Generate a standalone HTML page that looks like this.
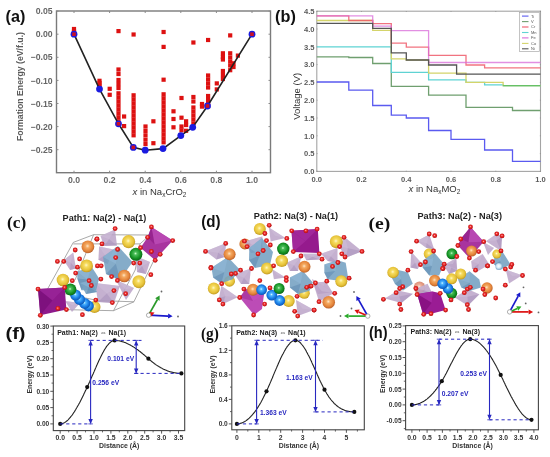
<!DOCTYPE html>
<html><head><meta charset="utf-8"><style>
html,body{margin:0;padding:0;background:#fff;width:550px;height:457px;overflow:hidden}
svg{display:block;filter:blur(0.4px)}
</style></head><body>
<svg width="550" height="457" viewBox="0 0 550 457">
<defs>
<radialGradient id="gy" cx="0.47" cy="0.44" r="0.56"><stop offset="0" stop-color="#fff8c8"/><stop offset="0.28" stop-color="#f6dc60"/><stop offset="0.72" stop-color="#e6c238"/><stop offset="1" stop-color="#c09a24"/></radialGradient>
<radialGradient id="go" cx="0.47" cy="0.44" r="0.56"><stop offset="0" stop-color="#ffe6c8"/><stop offset="0.28" stop-color="#f4aa62"/><stop offset="0.72" stop-color="#e4843a"/><stop offset="1" stop-color="#b8602a"/></radialGradient>
<radialGradient id="gp" cx="0.47" cy="0.44" r="0.56"><stop offset="0" stop-color="#ffe4d8"/><stop offset="0.3" stop-color="#f0b09a"/><stop offset="0.75" stop-color="#dc9078"/><stop offset="1" stop-color="#b87060"/></radialGradient>
<radialGradient id="gg" cx="0.47" cy="0.44" r="0.56"><stop offset="0" stop-color="#c8ffc8"/><stop offset="0.22" stop-color="#4cbc5a"/><stop offset="0.65" stop-color="#179626"/><stop offset="1" stop-color="#0a6616"/></radialGradient>
<radialGradient id="gb" cx="0.47" cy="0.44" r="0.56"><stop offset="0" stop-color="#d8faff"/><stop offset="0.22" stop-color="#50b6ff"/><stop offset="0.65" stop-color="#1a7ee6"/><stop offset="1" stop-color="#0c56b4"/></radialGradient>
<radialGradient id="gr" cx="0.47" cy="0.44" r="0.56"><stop offset="0" stop-color="#ffb0b0"/><stop offset="0.35" stop-color="#f03030"/><stop offset="1" stop-color="#b00a0a"/></radialGradient>
<radialGradient id="gw" cx="0.47" cy="0.44" r="0.56"><stop offset="0" stop-color="#ffffff"/><stop offset="0.5" stop-color="#d6ecf8"/><stop offset="1" stop-color="#7aa6c8"/></radialGradient>
</defs>
<rect width="550" height="457" fill="#fff"/>
<line x1="47.0" y1="290.0" x2="73.3" y2="242.4" stroke="#8c8c8c" stroke-width="0.75"/>
<line x1="73.3" y1="242.4" x2="93.6" y2="234.7" stroke="#8c8c8c" stroke-width="0.75"/>
<line x1="93.6" y1="234.7" x2="150.0" y2="235.0" stroke="#8c8c8c" stroke-width="0.75"/>
<line x1="73.3" y1="243.9" x2="140.0" y2="243.9" stroke="#8c8c8c" stroke-width="0.75"/>
<line x1="140.0" y1="243.9" x2="150.0" y2="235.0" stroke="#8c8c8c" stroke-width="0.75"/>
<line x1="150.0" y1="235.0" x2="155.0" y2="258.0" stroke="#8c8c8c" stroke-width="0.75"/>
<line x1="155.0" y1="258.0" x2="133.9" y2="301.8" stroke="#8c8c8c" stroke-width="0.75"/>
<line x1="135.2" y1="270.0" x2="113.5" y2="310.7" stroke="#8c8c8c" stroke-width="0.75"/>
<line x1="97.6" y1="300.5" x2="133.9" y2="301.8" stroke="#8c8c8c" stroke-width="0.75"/>
<line x1="60.0" y1="309.5" x2="113.5" y2="310.7" stroke="#8c8c8c" stroke-width="0.75"/>
<line x1="113.5" y1="310.7" x2="133.9" y2="301.8" stroke="#8c8c8c" stroke-width="0.75"/>
<line x1="47.0" y1="290.0" x2="60.0" y2="309.5" stroke="#8c8c8c" stroke-width="0.75"/>
<line x1="47.0" y1="290.0" x2="97.6" y2="300.5" stroke="#8c8c8c" stroke-width="0.75"/>
<line x1="93.6" y1="234.7" x2="75.0" y2="280.0" stroke="#8c8c8c" stroke-width="0.75"/>
<line x1="140.0" y1="243.9" x2="135.2" y2="270.0" stroke="#8c8c8c" stroke-width="0.75"/>
<polygon points="100.5,236.0 115.0,229.5 117.0,245.5 104.0,246.0" fill="#bba3c8" fill-opacity="0.85"/>
<polygon points="100.5,236.0 115.0,229.5 109.1,239.2" fill="#d0c0da" fill-opacity="0.5"/>
<polygon points="117.0,245.5 104.0,246.0 109.1,239.2" fill="#a68fba" fill-opacity="0.5"/>
<polygon points="99.1,246.6 113.6,249.5 107.8,264.1 98.4,259.7" fill="#bba3c8" fill-opacity="0.85"/>
<polygon points="99.1,246.6 113.6,249.5 104.7,255.0" fill="#d0c0da" fill-opacity="0.5"/>
<polygon points="107.8,264.1 98.4,259.7 104.7,255.0" fill="#a68fba" fill-opacity="0.5"/>
<polygon points="63.7,260.2 73.3,252.5 76.0,268.4 70.0,270.0" fill="#bba3c8" fill-opacity="0.85"/>
<polygon points="63.7,260.2 73.3,252.5 70.8,262.8" fill="#d0c0da" fill-opacity="0.5"/>
<polygon points="76.0,268.4 70.0,270.0 70.8,262.8" fill="#a68fba" fill-opacity="0.5"/>
<polygon points="95.0,283.0 120.0,286.0 114.0,303.0 98.0,302.0" fill="#bba3c8" fill-opacity="0.85"/>
<polygon points="95.0,283.0 120.0,286.0 106.8,293.5" fill="#d0c0da" fill-opacity="0.5"/>
<polygon points="114.0,303.0 98.0,302.0 106.8,293.5" fill="#a68fba" fill-opacity="0.5"/>
<polygon points="116.0,280.0 134.0,288.0 126.0,300.0" fill="#bba3c8" fill-opacity="0.85"/>
<polygon points="116.0,280.0 134.0,288.0 125.3,289.3" fill="#d0c0da" fill-opacity="0.5"/>
<polygon points="135.5,256.0 150.0,262.0 146.0,274.0 137.0,272.0" fill="#bba3c8" fill-opacity="0.85"/>
<polygon points="135.5,256.0 150.0,262.0 142.1,266.0" fill="#d0c0da" fill-opacity="0.5"/>
<polygon points="146.0,274.0 137.0,272.0 142.1,266.0" fill="#a68fba" fill-opacity="0.5"/>
<polygon points="65.0,301.0 80.0,303.0 72.0,312.0" fill="#bba3c8" fill-opacity="0.85"/>
<polygon points="65.0,301.0 80.0,303.0 72.3,305.3" fill="#d0c0da" fill-opacity="0.5"/>
<polygon points="103.0,257.0 118.0,246.0 132.5,262.0 120.0,280.0 106.0,274.0" fill="#74a0c2" fill-opacity="0.88"/>
<polygon points="103.0,257.0 118.0,246.0 115.9,263.8" fill="#92bad8" fill-opacity="0.55"/>
<polygon points="120.0,280.0 106.0,274.0 115.9,263.8" fill="#5e8ab0" fill-opacity="0.55"/>
<polygon points="77.3,271.4 91.8,267.0 99.1,278.6 96.2,290.3 81.6,290.3 77.3,278.6" fill="#74a0c2" fill-opacity="0.88"/>
<polygon points="77.3,271.4 91.8,267.0 87.2,279.4" fill="#92bad8" fill-opacity="0.55"/>
<polygon points="81.6,290.3 77.3,278.6 87.2,279.4" fill="#5e8ab0" fill-opacity="0.55"/>
<polygon points="80.0,283.0 92.0,280.0 97.0,292.0 86.0,294.0" fill="#74a0c2" fill-opacity="0.88"/>
<polygon points="80.0,283.0 92.0,280.0 88.8,287.2" fill="#92bad8" fill-opacity="0.55"/>
<polygon points="97.0,292.0 86.0,294.0 88.8,287.2" fill="#5e8ab0" fill-opacity="0.55"/>
<circle cx="87.9" cy="246.8" r="6.4" fill="url(#go)"/>
<circle cx="86.6" cy="265.9" r="6.4" fill="url(#gy)"/>
<circle cx="128.6" cy="241.7" r="6.6" fill="url(#gy)"/>
<circle cx="124.3" cy="276.0" r="6.3" fill="url(#go)"/>
<circle cx="138.9" cy="281.7" r="6.5" fill="url(#gy)"/>
<circle cx="63.0" cy="280.0" r="6.3" fill="url(#gy)"/>
<circle cx="135.9" cy="254.3" r="6.5" fill="url(#gg)"/>
<circle cx="94.5" cy="307.0" r="6.0" fill="url(#gy)"/>
<circle cx="88.5" cy="306.0" r="5.4" fill="url(#gb)"/>
<circle cx="84.7" cy="303.4" r="5.5" fill="url(#gb)"/>
<circle cx="79.5" cy="299.4" r="5.5" fill="url(#gb)"/>
<circle cx="75.6" cy="295.0" r="5.5" fill="url(#gb)"/>
<circle cx="70.4" cy="289.6" r="6.0" fill="url(#gg)"/>
<polygon points="151.4,226.9 172.7,240.6 160.2,254.3 155.2,260.3 140.5,247.7 147.6,237.3" fill="#a8349f" fill-opacity="1"/>
<polygon points="151.4,226.9 172.7,240.6 154.6,244.5" fill="#bc4cb6" fill-opacity="0.8"/>
<polygon points="147.6,237.3 151.4,226.9 154.6,244.5" fill="#92208c" fill-opacity="0.8"/>
<polygon points="38.0,289.1 64.7,287.4 66.4,309.6 40.3,315.3" fill="#8e1a8c" fill-opacity="1"/>
<polygon points="38.0,289.1 64.7,287.4 52.4,300.4" fill="#9a2498" fill-opacity="0.8"/>
<polygon points="40.3,315.3 38.0,289.1 52.4,300.4" fill="#7a0f7a" fill-opacity="0.8"/>
<circle cx="75.2" cy="250.0" r="2.4" fill="url(#gr)"/>
<circle cx="57.4" cy="261.4" r="2.4" fill="url(#gr)"/>
<circle cx="63.7" cy="261.4" r="2.4" fill="url(#gr)"/>
<circle cx="79.6" cy="258.9" r="2.4" fill="url(#gr)"/>
<circle cx="96.8" cy="239.2" r="2.4" fill="url(#gr)"/>
<circle cx="97.4" cy="265.9" r="2.4" fill="url(#gr)"/>
<circle cx="115.1" cy="228.6" r="2.4" fill="url(#gr)"/>
<circle cx="97.0" cy="239.0" r="2.4" fill="url(#gr)"/>
<circle cx="102.0" cy="243.9" r="2.4" fill="url(#gr)"/>
<circle cx="117.6" cy="249.4" r="2.4" fill="url(#gr)"/>
<circle cx="115.7" cy="257.6" r="2.4" fill="url(#gr)"/>
<circle cx="101.2" cy="265.8" r="2.4" fill="url(#gr)"/>
<circle cx="133.7" cy="263.1" r="2.4" fill="url(#gr)"/>
<circle cx="139.8" cy="263.1" r="2.4" fill="url(#gr)"/>
<circle cx="151.4" cy="226.9" r="2.4" fill="url(#gr)"/>
<circle cx="172.7" cy="240.6" r="2.4" fill="url(#gr)"/>
<circle cx="155.2" cy="260.3" r="2.4" fill="url(#gr)"/>
<circle cx="147.6" cy="237.3" r="2.4" fill="url(#gr)"/>
<circle cx="151.4" cy="251.5" r="2.4" fill="url(#gr)"/>
<circle cx="160.2" cy="254.3" r="2.4" fill="url(#gr)"/>
<circle cx="140.5" cy="247.7" r="2.4" fill="url(#gr)"/>
<circle cx="38.0" cy="289.1" r="2.4" fill="url(#gr)"/>
<circle cx="64.7" cy="287.4" r="2.4" fill="url(#gr)"/>
<circle cx="66.4" cy="309.6" r="2.4" fill="url(#gr)"/>
<circle cx="40.3" cy="315.3" r="2.4" fill="url(#gr)"/>
<circle cx="57.9" cy="308.4" r="2.4" fill="url(#gr)"/>
<circle cx="75.6" cy="273.1" r="2.4" fill="url(#gr)"/>
<circle cx="82.4" cy="314.7" r="2.4" fill="url(#gr)"/>
<circle cx="100.9" cy="279.1" r="2.4" fill="url(#gr)"/>
<circle cx="91.3" cy="285.5" r="2.4" fill="url(#gr)"/>
<circle cx="111.6" cy="276.6" r="2.4" fill="url(#gr)"/>
<circle cx="117.4" cy="280.4" r="2.4" fill="url(#gr)"/>
<circle cx="113.9" cy="290.6" r="2.4" fill="url(#gr)"/>
<circle cx="125.6" cy="293.7" r="2.4" fill="url(#gr)"/>
<circle cx="95.8" cy="300.1" r="2.4" fill="url(#gr)"/>
<circle cx="112.3" cy="302.6" r="2.4" fill="url(#gr)"/>
<circle cx="150.8" cy="274.7" r="2.4" fill="url(#gr)"/>
<circle cx="77.4" cy="267.2" r="2.4" fill="url(#gr)"/>
<circle cx="72.3" cy="280.7" r="2.4" fill="url(#gr)"/>
<circle cx="89.1" cy="280.7" r="2.4" fill="url(#gr)"/>
<line x1="148.6" y1="315.2" x2="157.4" y2="299.5" stroke="#2a9a2a" stroke-width="1.7"/>
<polygon points="159.6,295.6 159.6,300.7 155.2,298.3" fill="#2a9a2a"/>
<line x1="148.6" y1="315.2" x2="168.1" y2="316.1" stroke="#1a1acc" stroke-width="1.7"/>
<polygon points="172.6,316.3 168.0,318.6 168.2,313.6" fill="#1a1acc"/>
<line x1="148.6" y1="315.2" x2="150.4" y2="314.4" stroke="#dd1111" stroke-width="1.7"/>
<polygon points="154.5,312.5 151.4,316.6 149.4,312.1" fill="#dd1111"/>
<circle cx="148.6" cy="315.2" r="2.2" fill="#fff" stroke="#999" stroke-width="0.8"/>
<circle cx="161.5" cy="291.5" r="0.9" fill="#666"/>
<circle cx="178.0" cy="316.5" r="0.9" fill="#666"/>
<circle cx="244.9" cy="243.9" r="5.5" fill="url(#go)"/>
<circle cx="229.5" cy="281.2" r="5.5" fill="url(#gy)"/>
<circle cx="304.3" cy="293.3" r="5.5" fill="url(#gy)"/>
<polygon points="205.7,251.3 226.3,243.1 224.6,257.0 216.4,259.5" fill="#bba3c8" fill-opacity="0.85"/>
<polygon points="205.7,251.3 226.3,243.1 218.2,252.7" fill="#d0c0da" fill-opacity="0.5"/>
<polygon points="224.6,257.0 216.4,259.5 218.2,252.7" fill="#a68fba" fill-opacity="0.5"/>
<polygon points="234.5,274.3 250.9,268.5 249.3,284.1 241.0,284.1" fill="#bba3c8" fill-opacity="0.85"/>
<polygon points="234.5,274.3 250.9,268.5 243.9,277.8" fill="#d0c0da" fill-opacity="0.5"/>
<polygon points="249.3,284.1 241.0,284.1 243.9,277.8" fill="#a68fba" fill-opacity="0.5"/>
<polygon points="244.3,241.4 262.4,236.5 262.4,251.3 250.9,252.9" fill="#bba3c8" fill-opacity="0.85"/>
<polygon points="244.3,241.4 262.4,236.5 255.0,245.5" fill="#d0c0da" fill-opacity="0.5"/>
<polygon points="262.4,251.3 250.9,252.9 255.0,245.5" fill="#a68fba" fill-opacity="0.5"/>
<polygon points="269.0,227.5 285.4,238.1 270.6,241.4" fill="#bba3c8" fill-opacity="0.85"/>
<polygon points="269.0,227.5 285.4,238.1 275.0,235.7" fill="#d0c0da" fill-opacity="0.5"/>
<polygon points="272.2,269.3 285.4,277.5 273.9,279.2" fill="#bba3c8" fill-opacity="0.85"/>
<polygon points="272.2,269.3 285.4,277.5 277.2,275.3" fill="#d0c0da" fill-opacity="0.5"/>
<polygon points="221.3,285.8 237.8,297.2 223.0,304.1 219.0,298.0" fill="#bba3c8" fill-opacity="0.85"/>
<polygon points="221.3,285.8 237.8,297.2 225.3,296.3" fill="#d0c0da" fill-opacity="0.5"/>
<polygon points="223.0,304.1 219.0,298.0 225.3,296.3" fill="#a68fba" fill-opacity="0.5"/>
<polygon points="339.1,246.3 344.9,237.3 362.1,251.3 345.7,257.8" fill="#bba3c8" fill-opacity="0.85"/>
<polygon points="339.1,246.3 344.9,237.3 347.9,248.2" fill="#d0c0da" fill-opacity="0.5"/>
<polygon points="362.1,251.3 345.7,257.8 347.9,248.2" fill="#a68fba" fill-opacity="0.5"/>
<polygon points="321.0,253.7 337.5,248.0 337.5,262.8 327.6,261.1" fill="#bba3c8" fill-opacity="0.85"/>
<polygon points="321.0,253.7 337.5,248.0 330.9,256.4" fill="#d0c0da" fill-opacity="0.5"/>
<polygon points="337.5,262.8 327.6,261.1 330.9,256.4" fill="#a68fba" fill-opacity="0.5"/>
<polygon points="303.0,253.7 321.0,253.7 319.4,259.5 306.3,260.3" fill="#bba3c8" fill-opacity="0.85"/>
<polygon points="303.0,253.7 321.0,253.7 312.4,256.8" fill="#d0c0da" fill-opacity="0.5"/>
<polygon points="319.4,259.5 306.3,260.3 312.4,256.8" fill="#a68fba" fill-opacity="0.5"/>
<polygon points="286.6,262.8 301.3,256.2 298.1,271.0 289.9,271.0" fill="#bba3c8" fill-opacity="0.85"/>
<polygon points="286.6,262.8 301.3,256.2 294.0,265.2" fill="#d0c0da" fill-opacity="0.5"/>
<polygon points="298.1,271.0 289.9,271.0 294.0,265.2" fill="#a68fba" fill-opacity="0.5"/>
<polygon points="312.8,282.5 326.0,281.7 332.5,292.3 317.8,294.0" fill="#bba3c8" fill-opacity="0.85"/>
<polygon points="312.8,282.5 326.0,281.7 322.3,287.6" fill="#d0c0da" fill-opacity="0.5"/>
<polygon points="332.5,292.3 317.8,294.0 322.3,287.6" fill="#a68fba" fill-opacity="0.5"/>
<polygon points="296.0,300.0 314.0,310.0 297.7,316.1" fill="#bba3c8" fill-opacity="0.85"/>
<polygon points="296.0,300.0 314.0,310.0 302.6,308.7" fill="#d0c0da" fill-opacity="0.5"/>
<polygon points="312.0,279.0 334.0,293.0 319.0,301.7" fill="#bba3c8" fill-opacity="0.85"/>
<polygon points="312.0,279.0 334.0,293.0 321.7,291.2" fill="#d0c0da" fill-opacity="0.5"/>
<polygon points="211.5,267.7 227.9,257.0 239.4,269.3 232.8,279.2 221.3,283.3 213.1,277.5" fill="#74a0c2" fill-opacity="0.88"/>
<polygon points="211.5,267.7 227.9,257.0 224.3,272.3" fill="#92bad8" fill-opacity="0.55"/>
<polygon points="221.3,283.3 213.1,277.5 224.3,272.3" fill="#5e8ab0" fill-opacity="0.55"/>
<polygon points="249.3,248.0 262.0,238.0 273.0,252.0 270.0,265.0 255.0,268.0 249.0,260.0" fill="#74a0c2" fill-opacity="0.88"/>
<polygon points="249.3,248.0 262.0,238.0 259.7,255.2" fill="#92bad8" fill-opacity="0.55"/>
<polygon points="255.0,268.0 249.0,260.0 259.7,255.2" fill="#5e8ab0" fill-opacity="0.55"/>
<polygon points="324.3,264.4 337.5,260.3 345.7,262.8 348.1,277.5 339.1,280.8 327.6,279.2 324.3,272.6" fill="#74a0c2" fill-opacity="0.88"/>
<polygon points="324.3,264.4 337.5,260.3 335.2,271.1" fill="#92bad8" fill-opacity="0.55"/>
<polygon points="327.6,279.2 324.3,272.6 335.2,271.1" fill="#5e8ab0" fill-opacity="0.55"/>
<polygon points="289.9,277.5 303.0,271.0 312.8,282.5 309.6,290.7 298.1,294.0 289.9,287.4" fill="#74a0c2" fill-opacity="0.88"/>
<polygon points="289.9,277.5 303.0,271.0 300.6,283.8" fill="#92bad8" fill-opacity="0.55"/>
<polygon points="298.1,294.0 289.9,287.4 300.6,283.8" fill="#5e8ab0" fill-opacity="0.55"/>
<polygon points="246.0,289.0 264.0,294.5 262.0,309.0 254.0,315.0 239.7,297.5" fill="#bc4cb6" fill-opacity="1"/>
<polygon points="246.0,289.0 264.0,294.5 253.1,301.0" fill="#c04cbe" fill-opacity="0.8"/>
<polygon points="239.7,297.5 246.0,289.0 253.1,301.0" fill="#a8349f" fill-opacity="0.8"/>
<circle cx="259.8" cy="228.9" r="6.0" fill="url(#gy)"/>
<circle cx="229.6" cy="254.3" r="6.0" fill="url(#go)"/>
<circle cx="213.8" cy="288.5" r="6.0" fill="url(#gy)"/>
<circle cx="283.3" cy="248.8" r="6.2" fill="url(#gg)"/>
<circle cx="281.8" cy="260.9" r="6.2" fill="url(#gy)"/>
<circle cx="267.0" cy="268.4" r="6.0" fill="url(#gy)"/>
<circle cx="304.5" cy="266.8" r="6.0" fill="url(#go)"/>
<circle cx="336.3" cy="241.7" r="6.5" fill="url(#gy)"/>
<circle cx="341.3" cy="281.2" r="6.0" fill="url(#gy)"/>
<circle cx="328.7" cy="302.3" r="6.3" fill="url(#go)"/>
<circle cx="253.0" cy="289.7" r="6.0" fill="url(#go)"/>
<circle cx="288.7" cy="301.1" r="6.0" fill="url(#gy)"/>
<circle cx="279.7" cy="300.5" r="5.4" fill="url(#gb)"/>
<circle cx="271.8" cy="295.1" r="5.4" fill="url(#gb)"/>
<circle cx="279.1" cy="288.5" r="5.5" fill="url(#gg)"/>
<circle cx="261.6" cy="289.7" r="5.4" fill="url(#gb)"/>
<polygon points="291.5,230.7 317.8,229.1 319.4,252.9 293.1,252.1" fill="#951a8d" fill-opacity="1"/>
<polygon points="291.5,230.7 317.8,229.1 305.4,241.2" fill="#a42a9e" fill-opacity="0.8"/>
<polygon points="293.1,252.1 291.5,230.7 305.4,241.2" fill="#a42a9e" fill-opacity="0.8"/>
<circle cx="205.5" cy="251.4" r="2.4" fill="url(#gr)"/>
<circle cx="225.7" cy="243.4" r="2.4" fill="url(#gr)"/>
<circle cx="211.0" cy="267.5" r="2.4" fill="url(#gr)"/>
<circle cx="244.4" cy="241.2" r="2.4" fill="url(#gr)"/>
<circle cx="247.1" cy="246.6" r="2.4" fill="url(#gr)"/>
<circle cx="258.0" cy="253.8" r="2.4" fill="url(#gr)"/>
<circle cx="251.5" cy="268.5" r="2.4" fill="url(#gr)"/>
<circle cx="240.5" cy="270.2" r="2.4" fill="url(#gr)"/>
<circle cx="210.8" cy="268.0" r="2.4" fill="url(#gr)"/>
<circle cx="231.3" cy="274.0" r="2.4" fill="url(#gr)"/>
<circle cx="235.5" cy="273.4" r="2.4" fill="url(#gr)"/>
<circle cx="221.7" cy="283.7" r="2.4" fill="url(#gr)"/>
<circle cx="243.9" cy="289.1" r="2.4" fill="url(#gr)"/>
<circle cx="239.7" cy="297.5" r="2.4" fill="url(#gr)"/>
<circle cx="219.3" cy="299.9" r="2.4" fill="url(#gr)"/>
<circle cx="222.9" cy="304.1" r="2.4" fill="url(#gr)"/>
<circle cx="253.6" cy="315.0" r="2.4" fill="url(#gr)"/>
<circle cx="269.2" cy="225.3" r="2.4" fill="url(#gr)"/>
<circle cx="264.9" cy="233.5" r="2.4" fill="url(#gr)"/>
<circle cx="266.5" cy="240.6" r="2.4" fill="url(#gr)"/>
<circle cx="270.3" cy="245.0" r="2.4" fill="url(#gr)"/>
<circle cx="263.2" cy="250.5" r="2.4" fill="url(#gr)"/>
<circle cx="286.8" cy="238.4" r="2.4" fill="url(#gr)"/>
<circle cx="291.7" cy="230.8" r="2.4" fill="url(#gr)"/>
<circle cx="305.9" cy="230.8" r="2.4" fill="url(#gr)"/>
<circle cx="293.3" cy="251.6" r="2.4" fill="url(#gr)"/>
<circle cx="301.0" cy="256.0" r="2.4" fill="url(#gr)"/>
<circle cx="273.6" cy="265.8" r="2.4" fill="url(#gr)"/>
<circle cx="259.8" cy="280.6" r="2.4" fill="url(#gr)"/>
<circle cx="270.0" cy="287.9" r="2.4" fill="url(#gr)"/>
<circle cx="286.3" cy="277.6" r="2.4" fill="url(#gr)"/>
<circle cx="286.3" cy="280.6" r="2.4" fill="url(#gr)"/>
<circle cx="306.7" cy="287.3" r="2.4" fill="url(#gr)"/>
<circle cx="310.4" cy="286.1" r="2.4" fill="url(#gr)"/>
<circle cx="297.1" cy="296.3" r="2.4" fill="url(#gr)"/>
<circle cx="264.6" cy="304.1" r="2.4" fill="url(#gr)"/>
<circle cx="294.7" cy="311.3" r="2.4" fill="url(#gr)"/>
<circle cx="297.7" cy="316.1" r="2.4" fill="url(#gr)"/>
<circle cx="314.0" cy="310.1" r="2.4" fill="url(#gr)"/>
<circle cx="317.1" cy="229.1" r="2.4" fill="url(#gr)"/>
<circle cx="319.3" cy="253.8" r="2.4" fill="url(#gr)"/>
<circle cx="322.0" cy="259.2" r="2.4" fill="url(#gr)"/>
<circle cx="339.6" cy="246.6" r="2.4" fill="url(#gr)"/>
<circle cx="344.0" cy="237.3" r="2.4" fill="url(#gr)"/>
<circle cx="362.0" cy="251.4" r="2.4" fill="url(#gr)"/>
<circle cx="341.8" cy="253.8" r="2.4" fill="url(#gr)"/>
<circle cx="345.0" cy="257.0" r="2.4" fill="url(#gr)"/>
<circle cx="337.9" cy="262.5" r="2.4" fill="url(#gr)"/>
<circle cx="332.5" cy="266.4" r="2.4" fill="url(#gr)"/>
<circle cx="349.1" cy="278.2" r="2.4" fill="url(#gr)"/>
<circle cx="326.8" cy="281.2" r="2.4" fill="url(#gr)"/>
<circle cx="315.4" cy="283.0" r="2.4" fill="url(#gr)"/>
<circle cx="311.2" cy="286.1" r="2.4" fill="url(#gr)"/>
<circle cx="334.7" cy="293.3" r="2.4" fill="url(#gr)"/>
<circle cx="319.0" cy="301.7" r="2.4" fill="url(#gr)"/>
<circle cx="314.2" cy="310.1" r="2.4" fill="url(#gr)"/>
<line x1="367.8" y1="316.1" x2="358.6" y2="299.9" stroke="#1a1acc" stroke-width="1.7"/>
<polygon points="356.4,296.0 360.8,298.7 356.4,301.1" fill="#1a1acc"/>
<line x1="367.8" y1="316.1" x2="348.5" y2="316.1" stroke="#2aaa2a" stroke-width="1.7"/>
<polygon points="344.0,316.1 348.5,313.6 348.5,318.6" fill="#2aaa2a"/>
<line x1="367.8" y1="316.1" x2="358.6" y2="311.9" stroke="#dd1111" stroke-width="1.7"/>
<polygon points="354.5,310.0 359.6,309.6 357.5,314.1" fill="#dd1111"/>
<circle cx="367.8" cy="316.1" r="2.2" fill="#fff" stroke="#999" stroke-width="0.8"/>
<circle cx="354.0" cy="292.0" r="0.9" fill="#666"/>
<circle cx="351.5" cy="308.5" r="0.9" fill="#666"/>
<circle cx="340.5" cy="316.0" r="0.9" fill="#666"/>
<circle cx="429.2" cy="253.8" r="5.5" fill="url(#gy)"/>
<circle cx="419.5" cy="287.3" r="5.8" fill="url(#gp)"/>
<polygon points="416.9,241.1 429.3,234.6 434.2,249.3 426.0,247.7" fill="#bba3c8" fill-opacity="0.85"/>
<polygon points="416.9,241.1 429.3,234.6 426.6,243.2" fill="#d0c0da" fill-opacity="0.5"/>
<polygon points="434.2,249.3 426.0,247.7 426.6,243.2" fill="#a68fba" fill-opacity="0.5"/>
<polygon points="411.2,251.8 421.0,262.5 417.8,269.0 410.4,267.4" fill="#bba3c8" fill-opacity="0.85"/>
<polygon points="411.2,251.8 421.0,262.5 415.1,262.7" fill="#d0c0da" fill-opacity="0.5"/>
<polygon points="417.8,269.0 410.4,267.4 415.1,262.7" fill="#a68fba" fill-opacity="0.5"/>
<polygon points="444.0,265.8 455.5,259.2 457.2,270.7 449.0,274.0" fill="#bba3c8" fill-opacity="0.85"/>
<polygon points="444.0,265.8 455.5,259.2 451.4,267.4" fill="#d0c0da" fill-opacity="0.5"/>
<polygon points="457.2,270.7 449.0,274.0 451.4,267.4" fill="#a68fba" fill-opacity="0.5"/>
<polygon points="384.9,298.6 398.1,290.4 412.8,293.7 401.3,303.0" fill="#bba3c8" fill-opacity="0.85"/>
<polygon points="384.9,298.6 398.1,290.4 399.3,296.4" fill="#d0c0da" fill-opacity="0.5"/>
<polygon points="412.8,293.7 401.3,303.0 399.3,296.4" fill="#a68fba" fill-opacity="0.5"/>
<polygon points="416.1,288.8 427.6,283.8 432.5,293.7 420.0,295.0" fill="#bba3c8" fill-opacity="0.85"/>
<polygon points="416.1,288.8 427.6,283.8 424.1,290.3" fill="#d0c0da" fill-opacity="0.5"/>
<polygon points="432.5,293.7 420.0,295.0 424.1,290.3" fill="#a68fba" fill-opacity="0.5"/>
<polygon points="471.2,261.3 482.7,254.0 489.3,264.6 477.8,271.2 472.0,268.7" fill="#bba3c8" fill-opacity="0.85"/>
<polygon points="471.2,261.3 482.7,254.0 478.6,264.0" fill="#d0c0da" fill-opacity="0.5"/>
<polygon points="477.8,271.2 472.0,268.7 478.6,264.0" fill="#a68fba" fill-opacity="0.5"/>
<polygon points="444.9,264.6 456.4,258.0 457.2,269.6" fill="#bba3c8" fill-opacity="0.85"/>
<polygon points="444.9,264.6 456.4,258.0 452.8,264.1" fill="#d0c0da" fill-opacity="0.5"/>
<polygon points="454.8,297.5 467.9,289.3 479.4,294.2 467.9,305.7" fill="#bba3c8" fill-opacity="0.85"/>
<polygon points="454.8,297.5 467.9,289.3 467.5,296.7" fill="#d0c0da" fill-opacity="0.5"/>
<polygon points="479.4,294.2 467.9,305.7 467.5,296.7" fill="#a68fba" fill-opacity="0.5"/>
<polygon points="505.7,269.6 522.1,275.3 509.0,283.5" fill="#bba3c8" fill-opacity="0.85"/>
<polygon points="505.7,269.6 522.1,275.3 512.3,276.1" fill="#d0c0da" fill-opacity="0.5"/>
<polygon points="486.0,241.3 496.8,233.8 502.1,235.9 501.0,250.9" fill="#bba3c8" fill-opacity="0.85"/>
<polygon points="486.0,241.3 496.8,233.8 496.5,240.5" fill="#d0c0da" fill-opacity="0.5"/>
<polygon points="502.1,235.9 501.0,250.9 496.5,240.5" fill="#a68fba" fill-opacity="0.5"/>
<polygon points="483.0,242.0 494.0,248.0 488.0,255.0" fill="#bba3c8" fill-opacity="0.85"/>
<polygon points="483.0,242.0 494.0,248.0 488.3,248.3" fill="#d0c0da" fill-opacity="0.5"/>
<polygon points="422.7,260.8 434.2,252.6 444.0,264.1 439.1,275.6 429.3,275.6 422.7,267.4" fill="#74a0c2" fill-opacity="0.88"/>
<polygon points="422.7,260.8 434.2,252.6 432.0,266.0" fill="#92bad8" fill-opacity="0.55"/>
<polygon points="429.3,275.6 422.7,267.4 432.0,266.0" fill="#5e8ab0" fill-opacity="0.55"/>
<polygon points="389.9,274.0 398.1,269.9 407.9,272.3 412.8,283.8 403.0,290.4 394.8,283.8" fill="#74a0c2" fill-opacity="0.88"/>
<polygon points="389.9,274.0 398.1,269.9 401.1,279.0" fill="#92bad8" fill-opacity="0.55"/>
<polygon points="403.0,290.4 394.8,283.8 401.1,279.0" fill="#5e8ab0" fill-opacity="0.55"/>
<polygon points="458.0,279.4 469.6,271.2 479.4,279.4 481.0,287.6 469.6,290.9 461.3,287.6" fill="#74a0c2" fill-opacity="0.88"/>
<polygon points="458.0,279.4 469.6,271.2 469.8,282.7" fill="#92bad8" fill-opacity="0.55"/>
<polygon points="469.6,290.9 461.3,287.6 469.8,282.7" fill="#5e8ab0" fill-opacity="0.55"/>
<polygon points="494.2,254.8 502.4,251.5 510.6,264.6 500.8,269.6 494.2,264.6" fill="#74a0c2" fill-opacity="0.88"/>
<polygon points="494.2,254.8 502.4,251.5 500.4,261.0" fill="#92bad8" fill-opacity="0.55"/>
<polygon points="500.8,269.6 494.2,264.6 500.4,261.0" fill="#5e8ab0" fill-opacity="0.55"/>
<circle cx="393.1" cy="272.5" r="5.8" fill="url(#gy)"/>
<circle cx="460.7" cy="274.0" r="5.5" fill="url(#gy)"/>
<circle cx="451.7" cy="278.8" r="5.5" fill="url(#gy)"/>
<circle cx="434.8" cy="280.6" r="5.8" fill="url(#go)"/>
<circle cx="451.7" cy="293.3" r="5.5" fill="url(#gg)"/>
<circle cx="448.0" cy="288.5" r="5.3" fill="url(#gb)"/>
<circle cx="442.6" cy="283.7" r="5.3" fill="url(#gb)"/>
<circle cx="451.9" cy="253.8" r="5.5" fill="url(#gg)"/>
<circle cx="487.0" cy="288.0" r="5.7" fill="url(#go)"/>
<circle cx="496.8" cy="254.1" r="4.5" fill="url(#gy)"/>
<circle cx="498.9" cy="266.5" r="3.5" fill="url(#gw)"/>
<polygon points="470.5,226.9 483.7,241.7 469.4,258.1 457.9,245.5 460.7,239.0" fill="#a8349f" fill-opacity="1"/>
<polygon points="470.5,226.9 483.7,241.7 468.4,242.2" fill="#bc4cb6" fill-opacity="0.8"/>
<polygon points="460.7,239.0 470.5,226.9 468.4,242.2" fill="#92208c" fill-opacity="0.8"/>
<circle cx="471.6" cy="251.0" r="5.5" fill="url(#go)"/>
<polygon points="417.1,293.9 432.8,291.5 440.2,293.3 445.6,310.1 431.2,313.7 423.1,314.3" fill="#9a1c94" fill-opacity="1"/>
<polygon points="417.1,293.9 432.8,291.5 431.7,302.8" fill="#a82aa4" fill-opacity="0.8"/>
<polygon points="423.1,314.3 417.1,293.9 431.7,302.8" fill="#84107e" fill-opacity="0.8"/>
<circle cx="416.6" cy="241.2" r="2.4" fill="url(#gr)"/>
<circle cx="429.2" cy="234.0" r="2.4" fill="url(#gr)"/>
<circle cx="434.7" cy="235.7" r="2.4" fill="url(#gr)"/>
<circle cx="433.6" cy="251.0" r="2.4" fill="url(#gr)"/>
<circle cx="411.1" cy="251.6" r="2.4" fill="url(#gr)"/>
<circle cx="420.5" cy="264.7" r="2.4" fill="url(#gr)"/>
<circle cx="425.4" cy="262.0" r="2.4" fill="url(#gr)"/>
<circle cx="407.9" cy="270.2" r="2.4" fill="url(#gr)"/>
<circle cx="402.7" cy="286.7" r="2.4" fill="url(#gr)"/>
<circle cx="399.7" cy="288.5" r="2.4" fill="url(#gr)"/>
<circle cx="396.1" cy="292.7" r="2.4" fill="url(#gr)"/>
<circle cx="383.4" cy="299.3" r="2.4" fill="url(#gr)"/>
<circle cx="399.7" cy="304.1" r="2.4" fill="url(#gr)"/>
<circle cx="400.9" cy="309.5" r="2.4" fill="url(#gr)"/>
<circle cx="415.9" cy="288.5" r="2.4" fill="url(#gr)"/>
<circle cx="417.1" cy="294.5" r="2.4" fill="url(#gr)"/>
<circle cx="423.7" cy="314.3" r="2.4" fill="url(#gr)"/>
<circle cx="431.0" cy="313.7" r="2.4" fill="url(#gr)"/>
<circle cx="470.5" cy="226.9" r="2.4" fill="url(#gr)"/>
<circle cx="483.7" cy="241.7" r="2.4" fill="url(#gr)"/>
<circle cx="469.4" cy="258.1" r="2.4" fill="url(#gr)"/>
<circle cx="457.9" cy="245.5" r="2.4" fill="url(#gr)"/>
<circle cx="460.7" cy="239.0" r="2.4" fill="url(#gr)"/>
<circle cx="456.8" cy="256.5" r="2.4" fill="url(#gr)"/>
<circle cx="478.7" cy="251.6" r="2.4" fill="url(#gr)"/>
<circle cx="444.2" cy="264.2" r="2.4" fill="url(#gr)"/>
<circle cx="443.1" cy="268.5" r="2.4" fill="url(#gr)"/>
<circle cx="475.5" cy="270.2" r="2.4" fill="url(#gr)"/>
<circle cx="487.5" cy="265.8" r="2.4" fill="url(#gr)"/>
<circle cx="442.6" cy="268.6" r="2.4" fill="url(#gr)"/>
<circle cx="440.2" cy="293.3" r="2.4" fill="url(#gr)"/>
<circle cx="445.6" cy="310.1" r="2.4" fill="url(#gr)"/>
<circle cx="451.0" cy="299.9" r="2.4" fill="url(#gr)"/>
<circle cx="464.3" cy="292.7" r="2.4" fill="url(#gr)"/>
<circle cx="467.3" cy="289.1" r="2.4" fill="url(#gr)"/>
<circle cx="470.3" cy="287.3" r="2.4" fill="url(#gr)"/>
<circle cx="467.3" cy="304.7" r="2.4" fill="url(#gr)"/>
<circle cx="468.5" cy="309.5" r="2.4" fill="url(#gr)"/>
<circle cx="483.0" cy="289.1" r="2.4" fill="url(#gr)"/>
<circle cx="484.8" cy="294.5" r="2.4" fill="url(#gr)"/>
<circle cx="496.8" cy="233.8" r="2.4" fill="url(#gr)"/>
<circle cx="502.1" cy="235.9" r="2.4" fill="url(#gr)"/>
<circle cx="501.0" cy="250.9" r="2.4" fill="url(#gr)"/>
<circle cx="492.5" cy="261.6" r="2.4" fill="url(#gr)"/>
<circle cx="487.6" cy="265.9" r="2.4" fill="url(#gr)"/>
<circle cx="505.3" cy="269.1" r="2.4" fill="url(#gr)"/>
<circle cx="510.7" cy="267.0" r="2.4" fill="url(#gr)"/>
<circle cx="511.8" cy="264.4" r="2.4" fill="url(#gr)"/>
<circle cx="522.5" cy="275.5" r="2.4" fill="url(#gr)"/>
<circle cx="505.3" cy="285.2" r="2.4" fill="url(#gr)"/>
<circle cx="495.7" cy="298.0" r="2.4" fill="url(#gr)"/>
<line x1="509.6" y1="311.9" x2="518.2" y2="296.2" stroke="#1a1acc" stroke-width="1.7"/>
<polygon points="520.3,292.2 520.3,297.3 516.0,295.0" fill="#1a1acc"/>
<line x1="509.6" y1="311.9" x2="528.6" y2="311.9" stroke="#dd1111" stroke-width="1.7"/>
<polygon points="533.1,311.9 528.6,314.4 528.6,309.4" fill="#dd1111"/>
<line x1="509.6" y1="311.9" x2="517.3" y2="308.4" stroke="#2aaa2a" stroke-width="1.7"/>
<polygon points="521.4,306.6 518.3,310.7 516.3,306.2" fill="#2aaa2a"/>
<circle cx="509.6" cy="311.9" r="2.2" fill="#fff" stroke="#999" stroke-width="0.8"/>
<circle cx="523.5" cy="287.3" r="0.9" fill="#666"/>
<circle cx="525.7" cy="303.4" r="0.9" fill="#666"/>
<circle cx="538.5" cy="312.4" r="0.9" fill="#666"/>
<rect x="56.5" y="11.0" width="214.0" height="161.7" fill="none" stroke="#7a7a7a" stroke-width="1.4"/>
<line x1="56.5" y1="11.1" x2="58.5" y2="11.1" stroke="#8a8a8a" stroke-width="1"/>
<line x1="270.5" y1="11.1" x2="268.5" y2="11.1" stroke="#8a8a8a" stroke-width="1"/>
<text x="52.6" y="14.2" font-family='"Liberation Sans", sans-serif' font-size="8.7" font-weight="bold" fill="#666" text-anchor="end" >0.05</text>
<line x1="56.5" y1="34.2" x2="58.5" y2="34.2" stroke="#8a8a8a" stroke-width="1"/>
<line x1="270.5" y1="34.2" x2="268.5" y2="34.2" stroke="#8a8a8a" stroke-width="1"/>
<text x="52.6" y="37.3" font-family='"Liberation Sans", sans-serif' font-size="8.7" font-weight="bold" fill="#666" text-anchor="end" >0.00</text>
<line x1="56.5" y1="57.3" x2="58.5" y2="57.3" stroke="#8a8a8a" stroke-width="1"/>
<line x1="270.5" y1="57.3" x2="268.5" y2="57.3" stroke="#8a8a8a" stroke-width="1"/>
<text x="52.6" y="60.4" font-family='"Liberation Sans", sans-serif' font-size="8.7" font-weight="bold" fill="#666" text-anchor="end" >−0.05</text>
<line x1="56.5" y1="80.4" x2="58.5" y2="80.4" stroke="#8a8a8a" stroke-width="1"/>
<line x1="270.5" y1="80.4" x2="268.5" y2="80.4" stroke="#8a8a8a" stroke-width="1"/>
<text x="52.6" y="83.5" font-family='"Liberation Sans", sans-serif' font-size="8.7" font-weight="bold" fill="#666" text-anchor="end" >−0.10</text>
<line x1="56.5" y1="103.5" x2="58.5" y2="103.5" stroke="#8a8a8a" stroke-width="1"/>
<line x1="270.5" y1="103.5" x2="268.5" y2="103.5" stroke="#8a8a8a" stroke-width="1"/>
<text x="52.6" y="106.6" font-family='"Liberation Sans", sans-serif' font-size="8.7" font-weight="bold" fill="#666" text-anchor="end" >−0.15</text>
<line x1="56.5" y1="126.6" x2="58.5" y2="126.6" stroke="#8a8a8a" stroke-width="1"/>
<line x1="270.5" y1="126.6" x2="268.5" y2="126.6" stroke="#8a8a8a" stroke-width="1"/>
<text x="52.6" y="129.7" font-family='"Liberation Sans", sans-serif' font-size="8.7" font-weight="bold" fill="#666" text-anchor="end" >−0.20</text>
<line x1="56.5" y1="149.7" x2="58.5" y2="149.7" stroke="#8a8a8a" stroke-width="1"/>
<line x1="270.5" y1="149.7" x2="268.5" y2="149.7" stroke="#8a8a8a" stroke-width="1"/>
<text x="52.6" y="152.8" font-family='"Liberation Sans", sans-serif' font-size="8.7" font-weight="bold" fill="#666" text-anchor="end" >−0.25</text>
<line x1="74.0" y1="172.7" x2="74.0" y2="170.7" stroke="#8a8a8a" stroke-width="1"/>
<line x1="74.0" y1="11.0" x2="74.0" y2="13.0" stroke="#8a8a8a" stroke-width="1"/>
<text x="74.0" y="183.3" font-family='"Liberation Sans", sans-serif' font-size="8.7" font-weight="bold" fill="#666" text-anchor="middle" >0.0</text>
<line x1="109.6" y1="172.7" x2="109.6" y2="170.7" stroke="#8a8a8a" stroke-width="1"/>
<line x1="109.6" y1="11.0" x2="109.6" y2="13.0" stroke="#8a8a8a" stroke-width="1"/>
<text x="109.6" y="183.3" font-family='"Liberation Sans", sans-serif' font-size="8.7" font-weight="bold" fill="#666" text-anchor="middle" >0.2</text>
<line x1="145.2" y1="172.7" x2="145.2" y2="170.7" stroke="#8a8a8a" stroke-width="1"/>
<line x1="145.2" y1="11.0" x2="145.2" y2="13.0" stroke="#8a8a8a" stroke-width="1"/>
<text x="145.2" y="183.3" font-family='"Liberation Sans", sans-serif' font-size="8.7" font-weight="bold" fill="#666" text-anchor="middle" >0.4</text>
<line x1="180.8" y1="172.7" x2="180.8" y2="170.7" stroke="#8a8a8a" stroke-width="1"/>
<line x1="180.8" y1="11.0" x2="180.8" y2="13.0" stroke="#8a8a8a" stroke-width="1"/>
<text x="180.8" y="183.3" font-family='"Liberation Sans", sans-serif' font-size="8.7" font-weight="bold" fill="#666" text-anchor="middle" >0.6</text>
<line x1="216.4" y1="172.7" x2="216.4" y2="170.7" stroke="#8a8a8a" stroke-width="1"/>
<line x1="216.4" y1="11.0" x2="216.4" y2="13.0" stroke="#8a8a8a" stroke-width="1"/>
<text x="216.4" y="183.3" font-family='"Liberation Sans", sans-serif' font-size="8.7" font-weight="bold" fill="#666" text-anchor="middle" >0.8</text>
<line x1="252.0" y1="172.7" x2="252.0" y2="170.7" stroke="#8a8a8a" stroke-width="1"/>
<line x1="252.0" y1="11.0" x2="252.0" y2="13.0" stroke="#8a8a8a" stroke-width="1"/>
<text x="252.0" y="183.3" font-family='"Liberation Sans", sans-serif' font-size="8.7" font-weight="bold" fill="#666" text-anchor="middle" >1.0</text>
<text x="159.5" y="195" font-family='"Liberation Sans", sans-serif' font-size="9.5" fill="#333" text-anchor="middle"><tspan font-style="italic">x</tspan> in Na<tspan font-size="6.5" dy="2">x</tspan><tspan dy="-2">CrO</tspan><tspan font-size="6.5" dy="2">2</tspan></text>
<text x="0" y="0" transform="translate(23.3,86.5) rotate(-90)" font-family='"Liberation Sans", sans-serif' font-size="9" font-weight="bold" fill="#5a5a5a" text-anchor="middle" textLength="109" lengthAdjust="spacingAndGlyphs">Formation Energy (eV/f.u.)</text>
<g fill="#dd1111">
<rect x="71.9" y="26.9" width="4.2" height="4.2"/>
<rect x="71.9" y="29.4" width="4.2" height="4.2"/>
<rect x="71.9" y="32.1" width="4.2" height="4.2"/>
<rect x="97.4" y="78.7" width="4.2" height="4.2"/>
<rect x="97.4" y="80.9" width="4.2" height="4.2"/>
<rect x="97.4" y="83.1" width="4.2" height="4.2"/>
<rect x="97.4" y="85.2" width="4.2" height="4.2"/>
<rect x="107.6" y="86.7" width="4.2" height="4.2"/>
<rect x="107.6" y="92.7" width="4.2" height="4.2"/>
<rect x="116.4" y="29.0" width="4.2" height="4.2"/>
<rect x="116.4" y="67.4" width="4.2" height="4.2"/>
<rect x="116.4" y="71.9" width="4.2" height="4.2"/>
<rect x="116.4" y="77.9" width="4.2" height="4.2"/>
<rect x="116.4" y="81.9" width="4.2" height="4.2"/>
<rect x="116.4" y="85.9" width="4.2" height="4.2"/>
<rect x="116.4" y="91.2" width="4.2" height="4.2"/>
<rect x="116.4" y="95.2" width="4.2" height="4.2"/>
<rect x="116.4" y="99.2" width="4.2" height="4.2"/>
<rect x="116.4" y="103.2" width="4.2" height="4.2"/>
<rect x="116.4" y="107.2" width="4.2" height="4.2"/>
<rect x="116.4" y="111.2" width="4.2" height="4.2"/>
<rect x="116.4" y="115.2" width="4.2" height="4.2"/>
<rect x="116.4" y="119.2" width="4.2" height="4.2"/>
<rect x="122.0" y="114.4" width="4.2" height="4.2"/>
<rect x="122.0" y="124.0" width="4.2" height="4.2"/>
<rect x="131.5" y="32.4" width="4.2" height="4.2"/>
<rect x="131.5" y="93.2" width="4.2" height="4.2"/>
<rect x="131.5" y="97.2" width="4.2" height="4.2"/>
<rect x="131.5" y="101.2" width="4.2" height="4.2"/>
<rect x="131.5" y="105.2" width="4.2" height="4.2"/>
<rect x="131.5" y="109.2" width="4.2" height="4.2"/>
<rect x="131.5" y="113.2" width="4.2" height="4.2"/>
<rect x="131.5" y="117.2" width="4.2" height="4.2"/>
<rect x="131.5" y="121.2" width="4.2" height="4.2"/>
<rect x="131.5" y="125.2" width="4.2" height="4.2"/>
<rect x="131.5" y="129.2" width="4.2" height="4.2"/>
<rect x="131.5" y="133.2" width="4.2" height="4.2"/>
<rect x="131.5" y="145.4" width="4.2" height="4.2"/>
<rect x="143.4" y="124.4" width="4.2" height="4.2"/>
<rect x="143.4" y="128.8" width="4.2" height="4.2"/>
<rect x="143.4" y="133.2" width="4.2" height="4.2"/>
<rect x="143.4" y="137.6" width="4.2" height="4.2"/>
<rect x="143.4" y="142.0" width="4.2" height="4.2"/>
<rect x="151.3" y="119.2" width="4.2" height="4.2"/>
<rect x="151.3" y="141.1" width="4.2" height="4.2"/>
<rect x="161.5" y="29.9" width="4.2" height="4.2"/>
<rect x="161.5" y="44.8" width="4.2" height="4.2"/>
<rect x="161.5" y="77.6" width="4.2" height="4.2"/>
<rect x="161.5" y="92.2" width="4.2" height="4.2"/>
<rect x="161.5" y="96.2" width="4.2" height="4.2"/>
<rect x="161.5" y="100.2" width="4.2" height="4.2"/>
<rect x="161.5" y="104.2" width="4.2" height="4.2"/>
<rect x="161.5" y="108.2" width="4.2" height="4.2"/>
<rect x="161.5" y="112.2" width="4.2" height="4.2"/>
<rect x="161.5" y="116.2" width="4.2" height="4.2"/>
<rect x="161.5" y="120.2" width="4.2" height="4.2"/>
<rect x="161.5" y="124.2" width="4.2" height="4.2"/>
<rect x="161.5" y="128.2" width="4.2" height="4.2"/>
<rect x="161.5" y="132.2" width="4.2" height="4.2"/>
<rect x="161.5" y="136.2" width="4.2" height="4.2"/>
<rect x="161.5" y="140.2" width="4.2" height="4.2"/>
<rect x="171.4" y="109.2" width="4.2" height="4.2"/>
<rect x="171.4" y="116.9" width="4.2" height="4.2"/>
<rect x="171.4" y="125.2" width="4.2" height="4.2"/>
<rect x="179.4" y="95.9" width="4.2" height="4.2"/>
<rect x="179.4" y="115.6" width="4.2" height="4.2"/>
<rect x="179.4" y="124.4" width="4.2" height="4.2"/>
<rect x="179.4" y="128.2" width="4.2" height="4.2"/>
<rect x="184.0" y="119.2" width="4.2" height="4.2"/>
<rect x="184.0" y="122.9" width="4.2" height="4.2"/>
<rect x="184.0" y="128.7" width="4.2" height="4.2"/>
<rect x="191.3" y="40.4" width="4.2" height="4.2"/>
<rect x="191.3" y="94.9" width="4.2" height="4.2"/>
<rect x="191.3" y="99.4" width="4.2" height="4.2"/>
<rect x="191.3" y="105.4" width="4.2" height="4.2"/>
<rect x="191.3" y="109.4" width="4.2" height="4.2"/>
<rect x="191.3" y="113.4" width="4.2" height="4.2"/>
<rect x="191.3" y="117.4" width="4.2" height="4.2"/>
<rect x="191.3" y="121.4" width="4.2" height="4.2"/>
<rect x="199.9" y="101.9" width="4.2" height="4.2"/>
<rect x="199.9" y="104.5" width="4.2" height="4.2"/>
<rect x="206.0" y="37.9" width="4.2" height="4.2"/>
<rect x="206.0" y="73.4" width="4.2" height="4.2"/>
<rect x="206.0" y="77.4" width="4.2" height="4.2"/>
<rect x="206.0" y="81.4" width="4.2" height="4.2"/>
<rect x="206.0" y="85.4" width="4.2" height="4.2"/>
<rect x="206.0" y="93.9" width="4.2" height="4.2"/>
<rect x="206.0" y="97.9" width="4.2" height="4.2"/>
<rect x="206.0" y="100.5" width="4.2" height="4.2"/>
<rect x="206.0" y="103.9" width="4.2" height="4.2"/>
<rect x="214.7" y="81.3" width="4.2" height="4.2"/>
<rect x="214.7" y="87.3" width="4.2" height="4.2"/>
<rect x="220.8" y="51.2" width="4.2" height="4.2"/>
<rect x="220.8" y="54.9" width="4.2" height="4.2"/>
<rect x="220.8" y="57.4" width="4.2" height="4.2"/>
<rect x="220.8" y="68.9" width="4.2" height="4.2"/>
<rect x="220.8" y="72.9" width="4.2" height="4.2"/>
<rect x="220.8" y="76.9" width="4.2" height="4.2"/>
<rect x="228.1" y="33.3" width="4.2" height="4.2"/>
<rect x="228.1" y="51.2" width="4.2" height="4.2"/>
<rect x="228.1" y="55.4" width="4.2" height="4.2"/>
<rect x="228.1" y="59.4" width="4.2" height="4.2"/>
<rect x="228.1" y="63.4" width="4.2" height="4.2"/>
<rect x="228.1" y="68.1" width="4.2" height="4.2"/>
<rect x="231.4" y="61.2" width="4.2" height="4.2"/>
<rect x="231.4" y="64.9" width="4.2" height="4.2"/>
<rect x="235.8" y="53.5" width="4.2" height="4.2"/>
<rect x="250.6" y="32.1" width="4.2" height="4.2"/>
</g>
<polyline points="74.0,34.2 99.5,89.1 118.5,123.8 133.3,147.4 145.2,150.2 163.0,148.6 180.8,135.6 192.7,127.3 207.5,106.0 252.0,34.2" fill="none" stroke="#222" stroke-width="1.6"/>
<g fill="#1a1ae0">
<circle cx="74.0" cy="34.2" r="3.4"/>
<circle cx="99.5" cy="89.1" r="3.4"/>
<circle cx="118.5" cy="123.8" r="3.4"/>
<circle cx="133.3" cy="147.4" r="3.4"/>
<circle cx="145.2" cy="150.2" r="3.4"/>
<circle cx="163.0" cy="148.6" r="3.4"/>
<circle cx="180.8" cy="135.6" r="3.4"/>
<circle cx="192.7" cy="127.3" r="3.4"/>
<circle cx="207.5" cy="106.0" r="3.4"/>
<circle cx="252.0" cy="34.2" r="3.4"/>
</g>
<g fill="#cc1122">
<rect x="72.2" y="32.4" width="3.6" height="3.6"/>
<rect x="116.7" y="122.0" width="3.6" height="3.6"/>
<rect x="131.5" y="145.6" width="3.6" height="3.6"/>
<rect x="205.7" y="104.2" width="3.6" height="3.6"/>
<rect x="250.2" y="32.4" width="3.6" height="3.6"/>
</g>
<rect x="316.8" y="11.2" width="223.7" height="160.20000000000002" fill="none" stroke="#a4a4a4" stroke-width="1.1"/>
<line x1="316.8" y1="171.4" x2="317.40000000000003" y2="171.4" stroke="#8a8a8a" stroke-width="1"/>
<line x1="540.5" y1="171.4" x2="539.9" y2="171.4" stroke="#8a8a8a" stroke-width="1"/>
<text x="314.6" y="174.2" font-family='"Liberation Sans", sans-serif' font-size="7.6" font-weight="bold" fill="#5a5a5a" text-anchor="end" >0.0</text>
<line x1="316.8" y1="153.6" x2="317.40000000000003" y2="153.6" stroke="#8a8a8a" stroke-width="1"/>
<line x1="540.5" y1="153.6" x2="539.9" y2="153.6" stroke="#8a8a8a" stroke-width="1"/>
<text x="314.6" y="156.4" font-family='"Liberation Sans", sans-serif' font-size="7.6" font-weight="bold" fill="#5a5a5a" text-anchor="end" >0.5</text>
<line x1="316.8" y1="135.8" x2="317.40000000000003" y2="135.8" stroke="#8a8a8a" stroke-width="1"/>
<line x1="540.5" y1="135.8" x2="539.9" y2="135.8" stroke="#8a8a8a" stroke-width="1"/>
<text x="314.6" y="138.6" font-family='"Liberation Sans", sans-serif' font-size="7.6" font-weight="bold" fill="#5a5a5a" text-anchor="end" >1.0</text>
<line x1="316.8" y1="118.0" x2="317.40000000000003" y2="118.0" stroke="#8a8a8a" stroke-width="1"/>
<line x1="540.5" y1="118.0" x2="539.9" y2="118.0" stroke="#8a8a8a" stroke-width="1"/>
<text x="314.6" y="120.8" font-family='"Liberation Sans", sans-serif' font-size="7.6" font-weight="bold" fill="#5a5a5a" text-anchor="end" >1.5</text>
<line x1="316.8" y1="100.2" x2="317.40000000000003" y2="100.2" stroke="#8a8a8a" stroke-width="1"/>
<line x1="540.5" y1="100.2" x2="539.9" y2="100.2" stroke="#8a8a8a" stroke-width="1"/>
<text x="314.6" y="103.0" font-family='"Liberation Sans", sans-serif' font-size="7.6" font-weight="bold" fill="#5a5a5a" text-anchor="end" >2.0</text>
<line x1="316.8" y1="82.4" x2="317.40000000000003" y2="82.4" stroke="#8a8a8a" stroke-width="1"/>
<line x1="540.5" y1="82.4" x2="539.9" y2="82.4" stroke="#8a8a8a" stroke-width="1"/>
<text x="314.6" y="85.2" font-family='"Liberation Sans", sans-serif' font-size="7.6" font-weight="bold" fill="#5a5a5a" text-anchor="end" >2.5</text>
<line x1="316.8" y1="64.6" x2="317.40000000000003" y2="64.6" stroke="#8a8a8a" stroke-width="1"/>
<line x1="540.5" y1="64.6" x2="539.9" y2="64.6" stroke="#8a8a8a" stroke-width="1"/>
<text x="314.6" y="67.4" font-family='"Liberation Sans", sans-serif' font-size="7.6" font-weight="bold" fill="#5a5a5a" text-anchor="end" >3.0</text>
<line x1="316.8" y1="46.8" x2="317.40000000000003" y2="46.8" stroke="#8a8a8a" stroke-width="1"/>
<line x1="540.5" y1="46.8" x2="539.9" y2="46.8" stroke="#8a8a8a" stroke-width="1"/>
<text x="314.6" y="49.6" font-family='"Liberation Sans", sans-serif' font-size="7.6" font-weight="bold" fill="#5a5a5a" text-anchor="end" >3.5</text>
<line x1="316.8" y1="29.0" x2="317.40000000000003" y2="29.0" stroke="#8a8a8a" stroke-width="1"/>
<line x1="540.5" y1="29.0" x2="539.9" y2="29.0" stroke="#8a8a8a" stroke-width="1"/>
<text x="314.6" y="31.8" font-family='"Liberation Sans", sans-serif' font-size="7.6" font-weight="bold" fill="#5a5a5a" text-anchor="end" >4.0</text>
<line x1="316.8" y1="11.2" x2="317.40000000000003" y2="11.2" stroke="#8a8a8a" stroke-width="1"/>
<line x1="540.5" y1="11.2" x2="539.9" y2="11.2" stroke="#8a8a8a" stroke-width="1"/>
<text x="314.6" y="14.0" font-family='"Liberation Sans", sans-serif' font-size="7.6" font-weight="bold" fill="#5a5a5a" text-anchor="end" >4.5</text>
<line x1="316.8" y1="171.4" x2="316.8" y2="170.8" stroke="#8a8a8a" stroke-width="1"/>
<line x1="316.8" y1="11.2" x2="316.8" y2="11.799999999999999" stroke="#8a8a8a" stroke-width="1"/>
<text x="316.8" y="181.8" font-family='"Liberation Sans", sans-serif' font-size="7.6" font-weight="bold" fill="#5a5a5a" text-anchor="middle" >0.0</text>
<line x1="361.5" y1="171.4" x2="361.5" y2="170.8" stroke="#8a8a8a" stroke-width="1"/>
<line x1="361.5" y1="11.2" x2="361.5" y2="11.799999999999999" stroke="#8a8a8a" stroke-width="1"/>
<text x="361.5" y="181.8" font-family='"Liberation Sans", sans-serif' font-size="7.6" font-weight="bold" fill="#5a5a5a" text-anchor="middle" >0.2</text>
<line x1="406.3" y1="171.4" x2="406.3" y2="170.8" stroke="#8a8a8a" stroke-width="1"/>
<line x1="406.3" y1="11.2" x2="406.3" y2="11.799999999999999" stroke="#8a8a8a" stroke-width="1"/>
<text x="406.3" y="181.8" font-family='"Liberation Sans", sans-serif' font-size="7.6" font-weight="bold" fill="#5a5a5a" text-anchor="middle" >0.4</text>
<line x1="451.0" y1="171.4" x2="451.0" y2="170.8" stroke="#8a8a8a" stroke-width="1"/>
<line x1="451.0" y1="11.2" x2="451.0" y2="11.799999999999999" stroke="#8a8a8a" stroke-width="1"/>
<text x="451.0" y="181.8" font-family='"Liberation Sans", sans-serif' font-size="7.6" font-weight="bold" fill="#5a5a5a" text-anchor="middle" >0.6</text>
<line x1="495.8" y1="171.4" x2="495.8" y2="170.8" stroke="#8a8a8a" stroke-width="1"/>
<line x1="495.8" y1="11.2" x2="495.8" y2="11.799999999999999" stroke="#8a8a8a" stroke-width="1"/>
<text x="495.8" y="181.8" font-family='"Liberation Sans", sans-serif' font-size="7.6" font-weight="bold" fill="#5a5a5a" text-anchor="middle" >0.8</text>
<line x1="540.5" y1="171.4" x2="540.5" y2="170.8" stroke="#8a8a8a" stroke-width="1"/>
<line x1="540.5" y1="11.2" x2="540.5" y2="11.799999999999999" stroke="#8a8a8a" stroke-width="1"/>
<text x="540.5" y="181.8" font-family='"Liberation Sans", sans-serif' font-size="7.6" font-weight="bold" fill="#5a5a5a" text-anchor="middle" >1.0</text>
<path d="M316.8,82.0 L348.8,82.0 L348.8,90.2 L372.7,90.2 L372.7,105.5 L391.3,105.5 L391.3,115.2 L406.3,115.2 L406.3,118.0 L428.6,118.0 L428.6,130.5 L451.0,130.5 L451.0,139.4 L484.6,139.4 L484.6,150.0 L512.5,150.0 L512.5,161.4 L540.5,161.4" fill="none" stroke="#5a5af0" stroke-opacity="1.0" stroke-width="1.3"/>
<path d="M316.8,56.8 L348.8,56.8 L348.8,57.5 L372.7,57.5 L372.7,63.5 L391.3,63.5 L391.3,86.3 L428.6,86.3 L428.6,95.2 L466.0,95.2 L466.0,107.3 L512.5,107.3 L512.5,110.5 L540.5,110.5" fill="none" stroke="#6f9f6f" stroke-opacity="1.0" stroke-width="1.3"/>
<path d="M316.8,46.8 L391.3,46.8 L391.3,72.4 L428.6,72.4 L428.6,79.9 L466.0,79.9 L466.0,82.4 L484.6,82.4 L484.6,84.9 L503.1,84.9 L503.1,85.6 L540.5,85.6" fill="none" stroke="#5fd3d3" stroke-opacity="1.0" stroke-width="1.3"/>
<path d="M316.8,20.5 L372.7,20.5 L372.7,30.4 L391.3,30.4 L391.3,58.9 L406.3,58.9 L406.3,60.0 L428.6,60.0 L428.6,73.1 L466.0,73.1 L466.0,82.4 L503.1,82.4 L503.1,85.6 L540.5,85.6" fill="none" stroke="#d4d46a" stroke-opacity="1.0" stroke-width="1.3"/>
<path d="M316.8,15.8 L348.8,15.8 L348.8,20.5 L372.7,20.5 L372.7,23.7 L391.3,23.7 L391.3,43.2 L406.3,43.2 L406.3,47.2 L428.6,47.2 L428.6,55.3 L466.0,55.3 L466.0,65.0 L484.6,65.0 L484.6,67.8 L540.5,67.8" fill="none" stroke="#ee5a6a" stroke-opacity="0.85" stroke-width="1.3"/>
<path d="M316.8,15.8 L372.7,15.8 L372.7,26.2 L391.3,26.2 L391.3,30.6 L428.6,30.6 L428.6,62.5 L540.5,62.5" fill="none" stroke="#d86ad8" stroke-opacity="0.75" stroke-width="1.3"/>
<path d="M316.8,23.3 L372.7,23.3 L372.7,28.3 L391.3,28.3 L391.3,52.9 L406.3,52.9 L406.3,60.0 L428.6,60.0 L428.6,65.0 L456.6,65.0 L456.6,74.2 L540.5,74.2" fill="none" stroke="#555555" stroke-opacity="1.0" stroke-width="1.3"/>
<line x1="503.1" y1="85.6" x2="540.5" y2="85.6" stroke="#66c066" stroke-width="1.4"/>
<rect x="519.5" y="12.5" width="19.8" height="39" fill="#fff" stroke="#aaa" stroke-width="0.7"/>
<line x1="522" y1="16.1" x2="528.5" y2="16.1" stroke="#5a5af0" stroke-width="1.1"/>
<text x="531.0" y="17.5" font-family='"Liberation Sans", sans-serif' font-size="4" font-weight="normal" fill="#555" text-anchor="start" >Ti</text>
<line x1="522" y1="21.6" x2="528.5" y2="21.6" stroke="#6f9f6f" stroke-width="1.1"/>
<text x="531.0" y="22.9" font-family='"Liberation Sans", sans-serif' font-size="4" font-weight="normal" fill="#555" text-anchor="start" >V</text>
<line x1="522" y1="27.0" x2="528.5" y2="27.0" stroke="#ee5a6a" stroke-width="1.1"/>
<text x="531.0" y="28.4" font-family='"Liberation Sans", sans-serif' font-size="4" font-weight="normal" fill="#555" text-anchor="start" >Cr</text>
<line x1="522" y1="32.5" x2="528.5" y2="32.5" stroke="#5fd3d3" stroke-width="1.1"/>
<text x="531.0" y="33.9" font-family='"Liberation Sans", sans-serif' font-size="4" font-weight="normal" fill="#555" text-anchor="start" >Mn</text>
<line x1="522" y1="37.9" x2="528.5" y2="37.9" stroke="#d86ad8" stroke-width="1.1"/>
<text x="531.0" y="39.3" font-family='"Liberation Sans", sans-serif' font-size="4" font-weight="normal" fill="#555" text-anchor="start" >Fe</text>
<line x1="522" y1="43.4" x2="528.5" y2="43.4" stroke="#d4d46a" stroke-width="1.1"/>
<text x="531.0" y="44.8" font-family='"Liberation Sans", sans-serif' font-size="4" font-weight="normal" fill="#555" text-anchor="start" >Co</text>
<line x1="522" y1="48.8" x2="528.5" y2="48.8" stroke="#555555" stroke-width="1.1"/>
<text x="531.0" y="50.2" font-family='"Liberation Sans", sans-serif' font-size="4" font-weight="normal" fill="#555" text-anchor="start" >Ni</text>
<text x="434.5" y="191.8" font-family='"Liberation Sans", sans-serif' font-size="9.5" fill="#333" text-anchor="middle"><tspan font-style="italic">x</tspan> in Na<tspan font-size="6.5" dy="2">x</tspan><tspan dy="-2">MO</tspan><tspan font-size="6.5" dy="2">2</tspan></text>
<text x="0" y="0" transform="translate(300,96.3) rotate(-90)" font-family='"Liberation Sans", sans-serif' font-size="9.5" fill="#333" text-anchor="middle">Voltage (V)</text>
<text x="5.5" y="21.6" font-family='"Liberation Sans", sans-serif' font-size="16.5" font-weight="bold" fill="#111" text-anchor="start" textLength="19.8" lengthAdjust="spacingAndGlyphs">(a)</text>
<text x="275.1" y="22.1" font-family='"Liberation Sans", sans-serif' font-size="16.5" font-weight="bold" fill="#111" text-anchor="start" textLength="20.8" lengthAdjust="spacingAndGlyphs">(b)</text>
<rect x="53.3" y="326.0" width="131.39999999999998" height="104.60000000000002" fill="none" stroke="#444" stroke-width="1.1"/>
<line x1="53.3" y1="423.9" x2="50.3" y2="423.9" stroke="#444" stroke-width="0.9"/>
<text x="49.3" y="426.3" font-family='"Liberation Sans", sans-serif' font-size="6.6" font-weight="bold" fill="#333" text-anchor="end" >0.00</text>
<line x1="53.3" y1="407.6" x2="50.3" y2="407.6" stroke="#444" stroke-width="0.9"/>
<text x="49.3" y="410.0" font-family='"Liberation Sans", sans-serif' font-size="6.6" font-weight="bold" fill="#333" text-anchor="end" >0.05</text>
<line x1="53.3" y1="391.3" x2="50.3" y2="391.3" stroke="#444" stroke-width="0.9"/>
<text x="49.3" y="393.7" font-family='"Liberation Sans", sans-serif' font-size="6.6" font-weight="bold" fill="#333" text-anchor="end" >0.10</text>
<line x1="53.3" y1="375.0" x2="50.3" y2="375.0" stroke="#444" stroke-width="0.9"/>
<text x="49.3" y="377.4" font-family='"Liberation Sans", sans-serif' font-size="6.6" font-weight="bold" fill="#333" text-anchor="end" >0.15</text>
<line x1="53.3" y1="358.7" x2="50.3" y2="358.7" stroke="#444" stroke-width="0.9"/>
<text x="49.3" y="361.1" font-family='"Liberation Sans", sans-serif' font-size="6.6" font-weight="bold" fill="#333" text-anchor="end" >0.20</text>
<line x1="53.3" y1="342.4" x2="50.3" y2="342.4" stroke="#444" stroke-width="0.9"/>
<text x="49.3" y="344.8" font-family='"Liberation Sans", sans-serif' font-size="6.6" font-weight="bold" fill="#333" text-anchor="end" >0.25</text>
<line x1="53.3" y1="326.1" x2="50.3" y2="326.1" stroke="#444" stroke-width="0.9"/>
<text x="49.3" y="328.5" font-family='"Liberation Sans", sans-serif' font-size="6.6" font-weight="bold" fill="#333" text-anchor="end" >0.30</text>
<line x1="53.3" y1="415.8" x2="51.5" y2="415.8" stroke="#444" stroke-width="0.8"/>
<line x1="53.3" y1="399.4" x2="51.5" y2="399.4" stroke="#444" stroke-width="0.8"/>
<line x1="53.3" y1="383.1" x2="51.5" y2="383.1" stroke="#444" stroke-width="0.8"/>
<line x1="53.3" y1="366.8" x2="51.5" y2="366.8" stroke="#444" stroke-width="0.8"/>
<line x1="53.3" y1="350.5" x2="51.5" y2="350.5" stroke="#444" stroke-width="0.8"/>
<line x1="53.3" y1="334.2" x2="51.5" y2="334.2" stroke="#444" stroke-width="0.8"/>
<line x1="60.2" y1="430.6" x2="60.2" y2="433.6" stroke="#444" stroke-width="0.9"/>
<text x="60.2" y="439.6" font-family='"Liberation Sans", sans-serif' font-size="6.8" font-weight="bold" fill="#333" text-anchor="middle" >0.0</text>
<line x1="77.1" y1="430.6" x2="77.1" y2="433.6" stroke="#444" stroke-width="0.9"/>
<text x="77.1" y="439.6" font-family='"Liberation Sans", sans-serif' font-size="6.8" font-weight="bold" fill="#333" text-anchor="middle" >0.5</text>
<line x1="94.0" y1="430.6" x2="94.0" y2="433.6" stroke="#444" stroke-width="0.9"/>
<text x="94.0" y="439.6" font-family='"Liberation Sans", sans-serif' font-size="6.8" font-weight="bold" fill="#333" text-anchor="middle" >1.0</text>
<line x1="110.9" y1="430.6" x2="110.9" y2="433.6" stroke="#444" stroke-width="0.9"/>
<text x="110.9" y="439.6" font-family='"Liberation Sans", sans-serif' font-size="6.8" font-weight="bold" fill="#333" text-anchor="middle" >1.5</text>
<line x1="127.8" y1="430.6" x2="127.8" y2="433.6" stroke="#444" stroke-width="0.9"/>
<text x="127.8" y="439.6" font-family='"Liberation Sans", sans-serif' font-size="6.8" font-weight="bold" fill="#333" text-anchor="middle" >2.0</text>
<line x1="144.7" y1="430.6" x2="144.7" y2="433.6" stroke="#444" stroke-width="0.9"/>
<text x="144.7" y="439.6" font-family='"Liberation Sans", sans-serif' font-size="6.8" font-weight="bold" fill="#333" text-anchor="middle" >2.5</text>
<line x1="161.6" y1="430.6" x2="161.6" y2="433.6" stroke="#444" stroke-width="0.9"/>
<text x="161.6" y="439.6" font-family='"Liberation Sans", sans-serif' font-size="6.8" font-weight="bold" fill="#333" text-anchor="middle" >3.0</text>
<line x1="178.5" y1="430.6" x2="178.5" y2="433.6" stroke="#444" stroke-width="0.9"/>
<text x="178.5" y="439.6" font-family='"Liberation Sans", sans-serif' font-size="6.8" font-weight="bold" fill="#333" text-anchor="middle" >3.5</text>
<line x1="68.7" y1="430.6" x2="68.7" y2="432.40000000000003" stroke="#444" stroke-width="0.8"/>
<line x1="85.5" y1="430.6" x2="85.5" y2="432.40000000000003" stroke="#444" stroke-width="0.8"/>
<line x1="102.5" y1="430.6" x2="102.5" y2="432.40000000000003" stroke="#444" stroke-width="0.8"/>
<line x1="119.3" y1="430.6" x2="119.3" y2="432.40000000000003" stroke="#444" stroke-width="0.8"/>
<line x1="136.2" y1="430.6" x2="136.2" y2="432.40000000000003" stroke="#444" stroke-width="0.8"/>
<line x1="153.1" y1="430.6" x2="153.1" y2="432.40000000000003" stroke="#444" stroke-width="0.8"/>
<line x1="170.1" y1="430.6" x2="170.1" y2="432.40000000000003" stroke="#444" stroke-width="0.8"/>
<path d="M60.2,423.9 L60.7,423.9 L61.2,423.8 L61.7,423.7 L62.2,423.6 L62.7,423.4 L63.2,423.3 L63.7,423.0 L64.3,422.8 L64.8,422.5 L65.3,422.1 L65.8,421.8 L66.3,421.4 L66.8,421.0 L67.3,420.5 L67.8,420.1 L68.3,419.6 L68.8,419.0 L69.3,418.5 L69.8,417.9 L70.3,417.3 L70.8,416.7 L71.4,416.0 L71.9,415.4 L72.4,414.7 L72.9,413.9 L73.4,413.2 L73.9,412.4 L74.4,411.7 L74.9,410.9 L75.4,410.0 L75.9,409.2 L76.4,408.3 L76.9,407.5 L77.4,406.6 L77.9,405.7 L78.5,404.7 L79.0,403.8 L79.5,402.9 L80.0,401.9 L80.5,400.9 L81.0,399.9 L81.5,398.9 L82.0,397.9 L82.5,396.9 L83.0,395.9 L83.5,394.9 L84.0,393.8 L84.5,392.8 L85.0,391.7 L85.5,390.6 L86.1,389.6 L86.6,388.5 L87.1,387.4 L87.6,386.3 L88.1,385.2 L88.6,384.1 L89.1,383.0 L89.6,381.9 L90.1,380.7 L90.6,379.6 L91.1,378.4 L91.6,377.2 L92.1,376.1 L92.6,374.9 L93.2,373.7 L93.7,372.5 L94.2,371.4 L94.7,370.2 L95.2,369.0 L95.7,367.9 L96.2,366.7 L96.7,365.6 L97.2,364.4 L97.7,363.3 L98.2,362.2 L98.7,361.1 L99.2,360.0 L99.7,358.9 L100.3,357.8 L100.8,356.8 L101.3,355.8 L101.8,354.8 L102.3,353.8 L102.8,352.8 L103.3,351.9 L103.8,351.0 L104.3,350.1 L104.8,349.3 L105.3,348.5 L105.8,347.7 L106.3,346.9 L106.8,346.2 L107.4,345.5 L107.9,344.9 L108.4,344.3 L108.9,343.7 L109.4,343.2 L109.9,342.7 L110.4,342.3 L110.9,341.9 L111.4,341.5 L111.9,341.2 L112.4,341.0 L112.9,340.7 L113.4,340.6 L113.9,340.5 L114.4,340.4 L115.0,340.4 L115.5,340.5 L116.0,340.5 L116.5,340.5 L117.0,340.6 L117.5,340.6 L118.0,340.7 L118.5,340.8 L119.0,340.8 L119.5,340.9 L120.0,341.0 L120.5,341.2 L121.0,341.3 L121.5,341.4 L122.1,341.6 L122.6,341.7 L123.1,341.9 L123.6,342.0 L124.1,342.2 L124.6,342.4 L125.1,342.6 L125.6,342.8 L126.1,343.0 L126.6,343.2 L127.1,343.5 L127.6,343.7 L128.1,343.9 L128.6,344.2 L129.2,344.5 L129.7,344.7 L130.2,345.0 L130.7,345.3 L131.2,345.6 L131.7,345.9 L132.2,346.2 L132.7,346.5 L133.2,346.8 L133.7,347.1 L134.2,347.4 L134.7,347.8 L135.2,348.1 L135.7,348.5 L136.2,348.8 L136.8,349.2 L137.3,349.5 L137.8,349.9 L138.3,350.3 L138.8,350.7 L139.3,351.0 L139.8,351.4 L140.3,351.8 L140.8,352.2 L141.3,352.6 L141.8,353.0 L142.3,353.5 L142.8,353.9 L143.3,354.3 L143.9,354.7 L144.4,355.1 L144.9,355.6 L145.4,356.0 L145.9,356.5 L146.4,356.9 L146.9,357.3 L147.4,357.8 L147.9,358.2 L148.4,358.7 L148.9,359.2 L149.4,359.6 L149.9,360.0 L150.4,360.5 L151.0,360.9 L151.5,361.3 L152.0,361.7 L152.5,362.1 L153.0,362.5 L153.5,362.9 L154.0,363.3 L154.5,363.7 L155.0,364.0 L155.5,364.4 L156.0,364.7 L156.5,365.1 L157.0,365.4 L157.5,365.8 L158.1,366.1 L158.6,366.4 L159.1,366.7 L159.6,367.0 L160.1,367.3 L160.6,367.6 L161.1,367.9 L161.6,368.1 L162.1,368.4 L162.6,368.7 L163.1,368.9 L163.6,369.2 L164.1,369.4 L164.6,369.6 L165.1,369.9 L165.7,370.1 L166.2,370.3 L166.7,370.5 L167.2,370.7 L167.7,370.9 L168.2,371.1 L168.7,371.2 L169.2,371.4 L169.7,371.6 L170.2,371.7 L170.7,371.9 L171.2,372.0 L171.7,372.1 L172.2,372.3 L172.8,372.4 L173.3,372.5 L173.8,372.6 L174.3,372.7 L174.8,372.8 L175.3,372.9 L175.8,373.0 L176.3,373.0 L176.8,373.1 L177.3,373.2 L177.8,373.2 L178.3,373.2 L178.8,373.3 L179.3,373.3 L179.9,373.3 L180.4,373.4 L180.9,373.4 L181.4,373.4" fill="none" stroke="#222" stroke-width="1.1"/>
<circle cx="60.2" cy="423.9" r="2.1" fill="#111"/>
<circle cx="87.2" cy="387.1" r="2.1" fill="#111"/>
<circle cx="114.6" cy="340.4" r="2.1" fill="#111"/>
<circle cx="148.4" cy="358.7" r="2.1" fill="#111"/>
<circle cx="181.4" cy="373.4" r="2.1" fill="#111"/>
<line x1="60.2" y1="423.9" x2="90.6" y2="423.9" stroke="#2828c0" stroke-width="1" stroke-dasharray="3.2,2.8"/>
<line x1="90.6" y1="340.4" x2="141.5" y2="340.4" stroke="#2828c0" stroke-width="1" stroke-dasharray="3.2,2.8"/>
<line x1="134.5" y1="373.4" x2="180.0" y2="373.4" stroke="#2828c0" stroke-width="1" stroke-dasharray="3.2,2.8"/>
<line x1="90.6" y1="341.4" x2="90.6" y2="422.9" stroke="#2828c0" stroke-width="1.1"/>
<path d="M88.4,345.4 L90.6,340.4 L92.8,345.4 Z" fill="#2828c0"/>
<path d="M88.4,418.9 L90.6,423.9 L92.8,418.9 Z" fill="#2828c0"/>
<line x1="88.4" y1="340.4" x2="92.8" y2="340.4" stroke="#2828c0" stroke-width="0.8"/>
<line x1="88.4" y1="423.9" x2="92.8" y2="423.9" stroke="#2828c0" stroke-width="0.8"/>
<line x1="136.2" y1="341.4" x2="136.2" y2="372.4" stroke="#2828c0" stroke-width="1.1"/>
<path d="M134.0,345.4 L136.2,340.4 L138.4,345.4 Z" fill="#2828c0"/>
<path d="M134.0,368.4 L136.2,373.4 L138.4,368.4 Z" fill="#2828c0"/>
<line x1="134.0" y1="340.4" x2="138.4" y2="340.4" stroke="#2828c0" stroke-width="0.8"/>
<line x1="134.0" y1="373.4" x2="138.4" y2="373.4" stroke="#2828c0" stroke-width="0.8"/>
<text x="107.3" y="360.6" font-family='"Liberation Sans", sans-serif' font-size="7.3" font-weight="bold" fill="#2828c0" text-anchor="start" textLength="26.8" lengthAdjust="spacingAndGlyphs">0.101 eV</text>
<text x="92.3" y="384.8" font-family='"Liberation Sans", sans-serif' font-size="7.3" font-weight="bold" fill="#2828c0" text-anchor="start" textLength="26.8" lengthAdjust="spacingAndGlyphs">0.256 eV</text>
<text x="57.2" y="335.0" font-family='"Liberation Sans", sans-serif' font-size="7.3" font-weight="bold" fill="#222" text-anchor="start" textLength="68.8" lengthAdjust="spacingAndGlyphs">Path1: Na(2) ⇔ Na(1)</text>
<text x="0" y="0" transform="translate(32.2,374.5) rotate(-90)" font-family='"Liberation Sans", sans-serif' font-size="7.5" font-weight="bold" fill="#333" text-anchor="middle" textLength="38" lengthAdjust="spacingAndGlyphs">Energy (eV)</text>
<text x="119.2" y="448.0" font-family='"Liberation Sans", sans-serif' font-size="7.5" font-weight="bold" fill="#333" text-anchor="middle" textLength="40.5" lengthAdjust="spacingAndGlyphs">Distance (Å)</text>
<rect x="231.8" y="325.8" width="132.5" height="104.0" fill="none" stroke="#444" stroke-width="1.1"/>
<line x1="231.8" y1="423.9" x2="228.8" y2="423.9" stroke="#444" stroke-width="0.9"/>
<text x="227.8" y="426.3" font-family='"Liberation Sans", sans-serif' font-size="6.6" font-weight="bold" fill="#333" text-anchor="end" >0.0</text>
<line x1="231.8" y1="399.4" x2="228.8" y2="399.4" stroke="#444" stroke-width="0.9"/>
<text x="227.8" y="401.8" font-family='"Liberation Sans", sans-serif' font-size="6.6" font-weight="bold" fill="#333" text-anchor="end" >0.4</text>
<line x1="231.8" y1="374.9" x2="228.8" y2="374.9" stroke="#444" stroke-width="0.9"/>
<text x="227.8" y="377.3" font-family='"Liberation Sans", sans-serif' font-size="6.6" font-weight="bold" fill="#333" text-anchor="end" >0.8</text>
<line x1="231.8" y1="350.4" x2="228.8" y2="350.4" stroke="#444" stroke-width="0.9"/>
<text x="227.8" y="352.8" font-family='"Liberation Sans", sans-serif' font-size="6.6" font-weight="bold" fill="#333" text-anchor="end" >1.2</text>
<line x1="231.8" y1="325.9" x2="228.8" y2="325.9" stroke="#444" stroke-width="0.9"/>
<text x="227.8" y="328.3" font-family='"Liberation Sans", sans-serif' font-size="6.6" font-weight="bold" fill="#333" text-anchor="end" >1.6</text>
<line x1="231.8" y1="411.6" x2="230.0" y2="411.6" stroke="#444" stroke-width="0.8"/>
<line x1="231.8" y1="387.1" x2="230.0" y2="387.1" stroke="#444" stroke-width="0.8"/>
<line x1="231.8" y1="362.6" x2="230.0" y2="362.6" stroke="#444" stroke-width="0.8"/>
<line x1="231.8" y1="338.1" x2="230.0" y2="338.1" stroke="#444" stroke-width="0.8"/>
<line x1="236.9" y1="429.8" x2="236.9" y2="432.8" stroke="#444" stroke-width="0.9"/>
<text x="236.9" y="439.6" font-family='"Liberation Sans", sans-serif' font-size="6.8" font-weight="bold" fill="#333" text-anchor="middle" >0</text>
<line x1="258.8" y1="429.8" x2="258.8" y2="432.8" stroke="#444" stroke-width="0.9"/>
<text x="258.8" y="439.6" font-family='"Liberation Sans", sans-serif' font-size="6.8" font-weight="bold" fill="#333" text-anchor="middle" >1</text>
<line x1="280.7" y1="429.8" x2="280.7" y2="432.8" stroke="#444" stroke-width="0.9"/>
<text x="280.7" y="439.6" font-family='"Liberation Sans", sans-serif' font-size="6.8" font-weight="bold" fill="#333" text-anchor="middle" >2</text>
<line x1="302.6" y1="429.8" x2="302.6" y2="432.8" stroke="#444" stroke-width="0.9"/>
<text x="302.6" y="439.6" font-family='"Liberation Sans", sans-serif' font-size="6.8" font-weight="bold" fill="#333" text-anchor="middle" >3</text>
<line x1="324.5" y1="429.8" x2="324.5" y2="432.8" stroke="#444" stroke-width="0.9"/>
<text x="324.5" y="439.6" font-family='"Liberation Sans", sans-serif' font-size="6.8" font-weight="bold" fill="#333" text-anchor="middle" >4</text>
<line x1="346.4" y1="429.8" x2="346.4" y2="432.8" stroke="#444" stroke-width="0.9"/>
<text x="346.4" y="439.6" font-family='"Liberation Sans", sans-serif' font-size="6.8" font-weight="bold" fill="#333" text-anchor="middle" >5</text>
<line x1="247.8" y1="429.8" x2="247.8" y2="431.6" stroke="#444" stroke-width="0.8"/>
<line x1="269.8" y1="429.8" x2="269.8" y2="431.6" stroke="#444" stroke-width="0.8"/>
<line x1="291.6" y1="429.8" x2="291.6" y2="431.6" stroke="#444" stroke-width="0.8"/>
<line x1="313.6" y1="429.8" x2="313.6" y2="431.6" stroke="#444" stroke-width="0.8"/>
<line x1="335.4" y1="429.8" x2="335.4" y2="431.6" stroke="#444" stroke-width="0.8"/>
<line x1="357.4" y1="429.8" x2="357.4" y2="431.6" stroke="#444" stroke-width="0.8"/>
<path d="M236.9,423.9 L237.4,423.9 L237.9,423.9 L238.4,423.8 L238.9,423.8 L239.4,423.7 L239.8,423.6 L240.3,423.4 L240.8,423.3 L241.3,423.1 L241.8,423.0 L242.3,422.8 L242.8,422.6 L243.3,422.3 L243.8,422.1 L244.3,421.8 L244.8,421.5 L245.2,421.2 L245.7,420.9 L246.2,420.6 L246.7,420.2 L247.2,419.8 L247.7,419.4 L248.2,419.0 L248.7,418.6 L249.2,418.2 L249.7,417.7 L250.2,417.2 L250.7,416.7 L251.1,416.2 L251.6,415.7 L252.1,415.1 L252.6,414.5 L253.1,413.9 L253.6,413.3 L254.1,412.7 L254.6,412.1 L255.1,411.4 L255.6,410.7 L256.1,410.0 L256.5,409.3 L257.0,408.6 L257.5,407.9 L258.0,407.1 L258.5,406.3 L259.0,405.5 L259.5,404.7 L260.0,403.9 L260.5,403.0 L261.0,402.2 L261.5,401.3 L261.9,400.4 L262.4,399.5 L262.9,398.5 L263.4,397.6 L263.9,396.6 L264.4,395.6 L264.9,394.6 L265.4,393.6 L265.9,392.6 L266.4,391.5 L266.9,390.5 L267.4,389.4 L267.8,388.3 L268.3,387.2 L268.8,386.0 L269.3,384.9 L269.8,383.8 L270.3,382.6 L270.8,381.5 L271.3,380.3 L271.8,379.1 L272.3,378.0 L272.8,376.8 L273.2,375.6 L273.7,374.4 L274.2,373.3 L274.7,372.1 L275.2,370.9 L275.7,369.8 L276.2,368.6 L276.7,367.5 L277.2,366.3 L277.7,365.2 L278.2,364.1 L278.6,363.0 L279.1,361.9 L279.6,360.8 L280.1,359.7 L280.6,358.6 L281.1,357.6 L281.6,356.6 L282.1,355.6 L282.6,354.6 L283.1,353.7 L283.6,352.7 L284.1,351.8 L284.5,350.9 L285.0,350.1 L285.5,349.2 L286.0,348.4 L286.5,347.7 L287.0,346.9 L287.5,346.2 L288.0,345.6 L288.5,344.9 L289.0,344.3 L289.5,343.8 L289.9,343.2 L290.4,342.7 L290.9,342.3 L291.4,341.9 L291.9,341.5 L292.4,341.2 L292.9,340.9 L293.4,340.7 L293.9,340.5 L294.4,340.4 L294.9,340.3 L295.3,340.3 L295.8,340.3 L296.3,340.4 L296.8,340.5 L297.3,340.7 L297.8,340.9 L298.3,341.2 L298.8,341.5 L299.3,341.9 L299.8,342.3 L300.3,342.7 L300.7,343.2 L301.2,343.8 L301.7,344.3 L302.2,345.0 L302.7,345.6 L303.2,346.3 L303.7,347.0 L304.2,347.7 L304.7,348.5 L305.2,349.3 L305.7,350.1 L306.2,351.0 L306.6,351.9 L307.1,352.8 L307.6,353.7 L308.1,354.7 L308.6,355.6 L309.1,356.6 L309.6,357.6 L310.1,358.6 L310.6,359.7 L311.1,360.7 L311.6,361.8 L312.0,362.9 L312.5,363.9 L313.0,365.0 L313.5,366.1 L314.0,367.2 L314.5,368.3 L315.0,369.5 L315.5,370.6 L316.0,371.7 L316.5,372.8 L317.0,373.9 L317.4,375.0 L317.9,376.1 L318.4,377.2 L318.9,378.3 L319.4,379.4 L319.9,380.4 L320.4,381.5 L320.9,382.5 L321.4,383.6 L321.9,384.6 L322.4,385.6 L322.9,386.6 L323.3,387.5 L323.8,388.5 L324.3,389.4 L324.8,390.3 L325.3,391.2 L325.8,392.0 L326.3,392.8 L326.8,393.7 L327.3,394.4 L327.8,395.2 L328.3,395.9 L328.7,396.7 L329.2,397.4 L329.7,398.0 L330.2,398.7 L330.7,399.3 L331.2,400.0 L331.7,400.6 L332.2,401.1 L332.7,401.7 L333.2,402.2 L333.7,402.8 L334.1,403.3 L334.6,403.8 L335.1,404.2 L335.6,404.7 L336.1,405.1 L336.6,405.5 L337.1,406.0 L337.6,406.3 L338.1,406.7 L338.6,407.1 L339.1,407.4 L339.5,407.7 L340.0,408.0 L340.5,408.3 L341.0,408.6 L341.5,408.9 L342.0,409.1 L342.5,409.4 L343.0,409.6 L343.5,409.8 L344.0,410.0 L344.5,410.2 L345.0,410.4 L345.4,410.6 L345.9,410.7 L346.4,410.9 L346.9,411.0 L347.4,411.1 L347.9,411.2 L348.4,411.3 L348.9,411.4 L349.4,411.5 L349.9,411.6 L350.4,411.7 L350.8,411.7 L351.3,411.8 L351.8,411.8 L352.3,411.8 L352.8,411.9 L353.3,411.9 L353.8,411.9 L354.3,411.9" fill="none" stroke="#222" stroke-width="1.1"/>
<circle cx="236.9" cy="423.9" r="2.1" fill="#111"/>
<circle cx="266.5" cy="391.3" r="2.1" fill="#111"/>
<circle cx="295.4" cy="340.3" r="2.1" fill="#111"/>
<circle cx="324.5" cy="389.7" r="2.1" fill="#111"/>
<circle cx="354.3" cy="411.9" r="2.1" fill="#111"/>
<line x1="236.9" y1="423.9" x2="256.6" y2="423.9" stroke="#2828c0" stroke-width="1" stroke-dasharray="3.2,2.8"/>
<line x1="256.6" y1="340.3" x2="322.9" y2="340.3" stroke="#2828c0" stroke-width="1" stroke-dasharray="3.2,2.8"/>
<line x1="315.5" y1="411.9" x2="353.2" y2="411.9" stroke="#2828c0" stroke-width="1" stroke-dasharray="3.2,2.8"/>
<line x1="256.6" y1="341.3" x2="256.6" y2="422.9" stroke="#2828c0" stroke-width="1.1"/>
<path d="M254.4,345.3 L256.6,340.3 L258.8,345.3 Z" fill="#2828c0"/>
<path d="M254.4,418.9 L256.6,423.9 L258.8,418.9 Z" fill="#2828c0"/>
<line x1="254.4" y1="340.3" x2="258.8" y2="340.3" stroke="#2828c0" stroke-width="0.8"/>
<line x1="254.4" y1="423.9" x2="258.8" y2="423.9" stroke="#2828c0" stroke-width="0.8"/>
<line x1="315.5" y1="341.3" x2="315.5" y2="410.9" stroke="#2828c0" stroke-width="1.1"/>
<path d="M313.3,345.3 L315.5,340.3 L317.7,345.3 Z" fill="#2828c0"/>
<path d="M313.3,406.9 L315.5,411.9 L317.7,406.9 Z" fill="#2828c0"/>
<line x1="313.3" y1="340.3" x2="317.7" y2="340.3" stroke="#2828c0" stroke-width="0.8"/>
<line x1="313.3" y1="411.9" x2="317.7" y2="411.9" stroke="#2828c0" stroke-width="0.8"/>
<text x="285.9" y="379.8" font-family='"Liberation Sans", sans-serif' font-size="7.3" font-weight="bold" fill="#2828c0" text-anchor="start" textLength="26.8" lengthAdjust="spacingAndGlyphs">1.163 eV</text>
<text x="259.9" y="415.3" font-family='"Liberation Sans", sans-serif' font-size="7.3" font-weight="bold" fill="#2828c0" text-anchor="start" textLength="26.8" lengthAdjust="spacingAndGlyphs">1.363 eV</text>
<text x="236.2" y="335.0" font-family='"Liberation Sans", sans-serif' font-size="7.3" font-weight="bold" fill="#222" text-anchor="start" textLength="69.5" lengthAdjust="spacingAndGlyphs">Path2: Na(3) ⇔ Na(1)</text>
<text x="0" y="0" transform="translate(214.89999999999998,374.5) rotate(-90)" font-family='"Liberation Sans", sans-serif' font-size="7.5" font-weight="bold" fill="#333" text-anchor="middle" textLength="38" lengthAdjust="spacingAndGlyphs">Energy (eV)</text>
<text x="298.9" y="448.0" font-family='"Liberation Sans", sans-serif' font-size="7.5" font-weight="bold" fill="#333" text-anchor="middle" textLength="40.5" lengthAdjust="spacingAndGlyphs">Distance (Å)</text>
<rect x="405.6" y="325.6" width="132.79999999999995" height="104.19999999999999" fill="none" stroke="#444" stroke-width="1.1"/>
<line x1="405.6" y1="420.7" x2="402.6" y2="420.7" stroke="#444" stroke-width="0.9"/>
<text x="401.6" y="423.1" font-family='"Liberation Sans", sans-serif' font-size="6.6" font-weight="bold" fill="#333" text-anchor="end" >-0.05</text>
<line x1="405.6" y1="404.9" x2="402.6" y2="404.9" stroke="#444" stroke-width="0.9"/>
<text x="401.6" y="407.3" font-family='"Liberation Sans", sans-serif' font-size="6.6" font-weight="bold" fill="#333" text-anchor="end" >0.00</text>
<line x1="405.6" y1="389.1" x2="402.6" y2="389.1" stroke="#444" stroke-width="0.9"/>
<text x="401.6" y="391.5" font-family='"Liberation Sans", sans-serif' font-size="6.6" font-weight="bold" fill="#333" text-anchor="end" >0.05</text>
<line x1="405.6" y1="373.3" x2="402.6" y2="373.3" stroke="#444" stroke-width="0.9"/>
<text x="401.6" y="375.7" font-family='"Liberation Sans", sans-serif' font-size="6.6" font-weight="bold" fill="#333" text-anchor="end" >0.10</text>
<line x1="405.6" y1="357.5" x2="402.6" y2="357.5" stroke="#444" stroke-width="0.9"/>
<text x="401.6" y="359.9" font-family='"Liberation Sans", sans-serif' font-size="6.6" font-weight="bold" fill="#333" text-anchor="end" >0.15</text>
<line x1="405.6" y1="341.7" x2="402.6" y2="341.7" stroke="#444" stroke-width="0.9"/>
<text x="401.6" y="344.1" font-family='"Liberation Sans", sans-serif' font-size="6.6" font-weight="bold" fill="#333" text-anchor="end" >0.20</text>
<line x1="405.6" y1="325.9" x2="402.6" y2="325.9" stroke="#444" stroke-width="0.9"/>
<text x="401.6" y="328.3" font-family='"Liberation Sans", sans-serif' font-size="6.6" font-weight="bold" fill="#333" text-anchor="end" >0.25</text>
<line x1="405.6" y1="428.6" x2="403.8" y2="428.6" stroke="#444" stroke-width="0.8"/>
<line x1="405.6" y1="412.8" x2="403.8" y2="412.8" stroke="#444" stroke-width="0.8"/>
<line x1="405.6" y1="397.0" x2="403.8" y2="397.0" stroke="#444" stroke-width="0.8"/>
<line x1="405.6" y1="381.2" x2="403.8" y2="381.2" stroke="#444" stroke-width="0.8"/>
<line x1="405.6" y1="365.4" x2="403.8" y2="365.4" stroke="#444" stroke-width="0.8"/>
<line x1="405.6" y1="349.6" x2="403.8" y2="349.6" stroke="#444" stroke-width="0.8"/>
<line x1="405.6" y1="333.8" x2="403.8" y2="333.8" stroke="#444" stroke-width="0.8"/>
<line x1="411.9" y1="429.8" x2="411.9" y2="432.8" stroke="#444" stroke-width="0.9"/>
<text x="411.9" y="439.6" font-family='"Liberation Sans", sans-serif' font-size="6.8" font-weight="bold" fill="#333" text-anchor="middle" >0.0</text>
<line x1="427.1" y1="429.8" x2="427.1" y2="432.8" stroke="#444" stroke-width="0.9"/>
<text x="427.1" y="439.6" font-family='"Liberation Sans", sans-serif' font-size="6.8" font-weight="bold" fill="#333" text-anchor="middle" >0.5</text>
<line x1="442.4" y1="429.8" x2="442.4" y2="432.8" stroke="#444" stroke-width="0.9"/>
<text x="442.4" y="439.6" font-family='"Liberation Sans", sans-serif' font-size="6.8" font-weight="bold" fill="#333" text-anchor="middle" >1.0</text>
<line x1="457.6" y1="429.8" x2="457.6" y2="432.8" stroke="#444" stroke-width="0.9"/>
<text x="457.6" y="439.6" font-family='"Liberation Sans", sans-serif' font-size="6.8" font-weight="bold" fill="#333" text-anchor="middle" >1.5</text>
<line x1="472.9" y1="429.8" x2="472.9" y2="432.8" stroke="#444" stroke-width="0.9"/>
<text x="472.9" y="439.6" font-family='"Liberation Sans", sans-serif' font-size="6.8" font-weight="bold" fill="#333" text-anchor="middle" >2.0</text>
<line x1="488.1" y1="429.8" x2="488.1" y2="432.8" stroke="#444" stroke-width="0.9"/>
<text x="488.1" y="439.6" font-family='"Liberation Sans", sans-serif' font-size="6.8" font-weight="bold" fill="#333" text-anchor="middle" >2.5</text>
<line x1="503.4" y1="429.8" x2="503.4" y2="432.8" stroke="#444" stroke-width="0.9"/>
<text x="503.4" y="439.6" font-family='"Liberation Sans", sans-serif' font-size="6.8" font-weight="bold" fill="#333" text-anchor="middle" >3.0</text>
<line x1="518.6" y1="429.8" x2="518.6" y2="432.8" stroke="#444" stroke-width="0.9"/>
<text x="518.6" y="439.6" font-family='"Liberation Sans", sans-serif' font-size="6.8" font-weight="bold" fill="#333" text-anchor="middle" >3.5</text>
<line x1="533.9" y1="429.8" x2="533.9" y2="432.8" stroke="#444" stroke-width="0.9"/>
<text x="533.9" y="439.6" font-family='"Liberation Sans", sans-serif' font-size="6.8" font-weight="bold" fill="#333" text-anchor="middle" >4.0</text>
<line x1="419.5" y1="429.8" x2="419.5" y2="431.6" stroke="#444" stroke-width="0.8"/>
<line x1="434.8" y1="429.8" x2="434.8" y2="431.6" stroke="#444" stroke-width="0.8"/>
<line x1="450.0" y1="429.8" x2="450.0" y2="431.6" stroke="#444" stroke-width="0.8"/>
<line x1="465.3" y1="429.8" x2="465.3" y2="431.6" stroke="#444" stroke-width="0.8"/>
<line x1="480.5" y1="429.8" x2="480.5" y2="431.6" stroke="#444" stroke-width="0.8"/>
<line x1="495.8" y1="429.8" x2="495.8" y2="431.6" stroke="#444" stroke-width="0.8"/>
<line x1="511.0" y1="429.8" x2="511.0" y2="431.6" stroke="#444" stroke-width="0.8"/>
<line x1="526.3" y1="429.8" x2="526.3" y2="431.6" stroke="#444" stroke-width="0.8"/>
<path d="M411.9,404.9 L412.4,404.9 L412.9,404.9 L413.4,404.8 L413.9,404.8 L414.4,404.7 L414.9,404.7 L415.4,404.6 L415.9,404.5 L416.4,404.4 L416.9,404.3 L417.4,404.1 L417.9,404.0 L418.4,403.8 L418.9,403.6 L419.4,403.5 L419.9,403.3 L420.4,403.0 L420.9,402.8 L421.4,402.6 L421.9,402.3 L422.4,402.1 L422.9,401.8 L423.4,401.5 L423.9,401.2 L424.4,400.9 L424.9,400.5 L425.4,400.2 L425.9,399.8 L426.4,399.4 L426.9,399.1 L427.4,398.7 L427.9,398.2 L428.4,397.8 L428.9,397.4 L429.4,396.9 L429.9,396.4 L430.4,396.0 L430.9,395.5 L431.4,395.0 L431.9,394.4 L432.4,393.9 L432.9,393.3 L433.4,392.8 L433.9,392.2 L434.4,391.6 L434.9,391.0 L435.4,390.4 L435.9,389.7 L436.4,389.1 L436.9,388.4 L437.4,387.7 L437.9,387.1 L438.4,386.3 L438.9,385.6 L439.4,384.9 L439.9,384.1 L440.4,383.4 L440.9,382.6 L441.4,381.8 L441.9,381.0 L442.4,380.2 L442.9,379.3 L443.4,378.5 L443.9,377.6 L444.4,376.7 L444.9,375.8 L445.4,374.8 L445.9,373.9 L446.4,373.0 L446.9,372.0 L447.4,371.0 L447.9,370.1 L448.4,369.1 L448.9,368.1 L449.4,367.1 L449.9,366.1 L450.4,365.1 L450.9,364.1 L451.4,363.1 L451.9,362.2 L452.4,361.2 L452.9,360.2 L453.4,359.2 L453.9,358.3 L454.4,357.3 L454.9,356.4 L455.4,355.4 L455.9,354.5 L456.4,353.6 L456.9,352.7 L457.4,351.9 L457.9,351.0 L458.4,350.2 L458.9,349.4 L459.4,348.6 L459.9,347.8 L460.4,347.1 L460.9,346.3 L461.4,345.6 L461.9,345.0 L462.4,344.3 L462.9,343.7 L463.4,343.2 L463.9,342.6 L464.4,342.1 L464.9,341.7 L465.4,341.2 L465.9,340.8 L466.4,340.5 L466.9,340.2 L467.4,339.9 L467.9,339.6 L468.4,339.5 L468.9,339.3 L469.4,339.2 L469.9,339.2 L470.4,339.2 L470.9,339.2 L471.4,339.2 L471.9,339.3 L472.4,339.4 L472.9,339.5 L473.4,339.7 L473.9,339.8 L474.4,340.0 L474.9,340.2 L475.4,340.4 L475.9,340.7 L476.4,341.0 L476.9,341.3 L477.4,341.6 L477.9,341.9 L478.4,342.3 L478.9,342.6 L479.4,343.0 L479.9,343.4 L480.4,343.9 L480.9,344.3 L481.4,344.8 L481.9,345.3 L482.4,345.8 L482.9,346.3 L483.4,346.8 L483.9,347.4 L484.4,348.0 L484.9,348.6 L485.4,349.2 L485.9,349.8 L486.4,350.5 L486.9,351.1 L487.4,351.8 L487.9,352.5 L488.4,353.2 L488.9,353.9 L489.4,354.7 L489.9,355.4 L490.4,356.2 L490.9,357.0 L491.4,357.8 L491.9,358.6 L492.4,359.4 L492.9,360.3 L493.4,361.1 L493.9,362.0 L494.4,362.9 L494.9,363.8 L495.4,364.7 L495.9,365.6 L496.4,366.6 L496.9,367.5 L497.4,368.5 L497.9,369.4 L498.4,370.4 L498.9,371.4 L499.4,372.4 L499.9,373.4 L500.4,374.4 L500.9,375.5 L501.4,376.5 L501.9,377.6 L502.4,378.6 L502.9,379.6 L503.4,380.7 L503.9,381.7 L504.4,382.8 L504.9,383.8 L505.4,384.9 L505.9,385.9 L506.4,386.9 L506.9,388.0 L507.4,389.0 L507.9,390.0 L508.4,391.0 L508.9,392.0 L509.4,393.0 L509.9,394.0 L510.4,395.0 L510.9,396.0 L511.4,397.0 L512.0,397.9 L512.5,398.9 L513.0,399.8 L513.5,400.7 L514.0,401.6 L514.5,402.5 L515.0,403.4 L515.5,404.2 L516.0,405.1 L516.5,405.9 L517.0,406.7 L517.5,407.5 L518.0,408.3 L518.5,409.1 L519.0,409.8 L519.5,410.5 L520.0,411.2 L520.5,411.9 L521.0,412.5 L521.5,413.2 L522.0,413.8 L522.5,414.3 L523.0,414.9 L523.5,415.4 L524.0,415.9 L524.5,416.4 L525.0,416.8 L525.5,417.2 L526.0,417.6 L526.5,418.0 L527.0,418.3 L527.5,418.6 L528.0,418.9 L528.5,419.1 L529.0,419.3 L529.5,419.5 L530.0,419.6 L530.5,419.7 L531.0,419.7 L531.5,419.8" fill="none" stroke="#222" stroke-width="1.1"/>
<circle cx="411.9" cy="404.9" r="2.1" fill="#111"/>
<circle cx="441.8" cy="381.2" r="2.1" fill="#111"/>
<circle cx="470.2" cy="339.2" r="2.1" fill="#111"/>
<circle cx="500.7" cy="374.9" r="2.1" fill="#111"/>
<circle cx="531.5" cy="419.8" r="2.1" fill="#111"/>
<line x1="411.9" y1="404.9" x2="439.0" y2="404.9" stroke="#2828c0" stroke-width="1" stroke-dasharray="3.2,2.8"/>
<line x1="439.0" y1="339.2" x2="492.0" y2="339.2" stroke="#2828c0" stroke-width="1" stroke-dasharray="3.2,2.8"/>
<line x1="489.5" y1="419.8" x2="529.8" y2="419.8" stroke="#2828c0" stroke-width="1" stroke-dasharray="3.2,2.8"/>
<line x1="439.0" y1="340.2" x2="439.0" y2="403.9" stroke="#2828c0" stroke-width="1.1"/>
<path d="M436.8,344.2 L439.0,339.2 L441.2,344.2 Z" fill="#2828c0"/>
<path d="M436.8,399.9 L439.0,404.9 L441.2,399.9 Z" fill="#2828c0"/>
<line x1="436.8" y1="339.2" x2="441.2" y2="339.2" stroke="#2828c0" stroke-width="0.8"/>
<line x1="436.8" y1="404.9" x2="441.2" y2="404.9" stroke="#2828c0" stroke-width="0.8"/>
<line x1="489.5" y1="340.2" x2="489.5" y2="418.8" stroke="#2828c0" stroke-width="1.1"/>
<path d="M487.3,344.2 L489.5,339.2 L491.7,344.2 Z" fill="#2828c0"/>
<path d="M487.3,414.8 L489.5,419.8 L491.7,414.8 Z" fill="#2828c0"/>
<line x1="487.3" y1="339.2" x2="491.7" y2="339.2" stroke="#2828c0" stroke-width="0.8"/>
<line x1="487.3" y1="419.8" x2="491.7" y2="419.8" stroke="#2828c0" stroke-width="0.8"/>
<text x="460.2" y="375.5" font-family='"Liberation Sans", sans-serif' font-size="7.3" font-weight="bold" fill="#2828c0" text-anchor="start" textLength="26.8" lengthAdjust="spacingAndGlyphs">0.253 eV</text>
<text x="441.7" y="395.6" font-family='"Liberation Sans", sans-serif' font-size="7.3" font-weight="bold" fill="#2828c0" text-anchor="start" textLength="26.8" lengthAdjust="spacingAndGlyphs">0.207 eV</text>
<text x="410.5" y="334.3" font-family='"Liberation Sans", sans-serif' font-size="7.3" font-weight="bold" fill="#222" text-anchor="start" textLength="69.6" lengthAdjust="spacingAndGlyphs">Path3: Na(2) ⇔ Na(3)</text>
<text x="0" y="0" transform="translate(385.2,374.0) rotate(-90)" font-family='"Liberation Sans", sans-serif' font-size="7.5" font-weight="bold" fill="#333" text-anchor="middle" textLength="38" lengthAdjust="spacingAndGlyphs">Energy (eV)</text>
<text x="472.6" y="448.0" font-family='"Liberation Sans", sans-serif' font-size="7.5" font-weight="bold" fill="#333" text-anchor="middle" textLength="40.5" lengthAdjust="spacingAndGlyphs">Distance (Å)</text>
<text x="5.5" y="338.6" font-family='"Liberation Sans", sans-serif' font-size="16.5" font-weight="bold" fill="#111" text-anchor="start" textLength="20" lengthAdjust="spacingAndGlyphs">(f)</text>
<text x="200.9" y="338.5" font-family='"Liberation Serif", serif' font-size="17" font-weight="bold" fill="#111" text-anchor="start" textLength="17.9" lengthAdjust="spacingAndGlyphs">(g)</text>
<text x="368.9" y="338.2" font-family='"Liberation Sans", sans-serif' font-size="16.5" font-weight="bold" fill="#111" text-anchor="start" textLength="18.6" lengthAdjust="spacingAndGlyphs">(h)</text>
<text x="7.1" y="227.8" font-family='"Liberation Serif", serif' font-size="17" font-weight="bold" fill="#111" text-anchor="start" textLength="19.1" lengthAdjust="spacingAndGlyphs">(c)</text>
<text x="201.2" y="227.3" font-family='"Liberation Sans", sans-serif' font-size="16.5" font-weight="bold" fill="#111" text-anchor="start" textLength="19.3" lengthAdjust="spacingAndGlyphs">(d)</text>
<text x="368.4" y="228.5" font-family='"Liberation Serif", serif' font-size="17" font-weight="bold" fill="#111" text-anchor="start" textLength="21.8" lengthAdjust="spacingAndGlyphs">(e)</text>
<text x="62.6" y="220.6" font-family='"Liberation Sans", sans-serif' font-size="9.5" font-weight="bold" fill="#222" text-anchor="start" textLength="83.8" lengthAdjust="spacingAndGlyphs">Path1: Na(2) - Na(1)</text>
<text x="253.8" y="219.4" font-family='"Liberation Sans", sans-serif' font-size="9.5" font-weight="bold" fill="#222" text-anchor="start" textLength="84.3" lengthAdjust="spacingAndGlyphs">Path2: Na(3) - Na(1)</text>
<text x="417.5" y="219.4" font-family='"Liberation Sans", sans-serif' font-size="9.5" font-weight="bold" fill="#222" text-anchor="start" textLength="84.5" lengthAdjust="spacingAndGlyphs">Path3: Na(2) - Na(3)</text>
</svg>
</body></html>
